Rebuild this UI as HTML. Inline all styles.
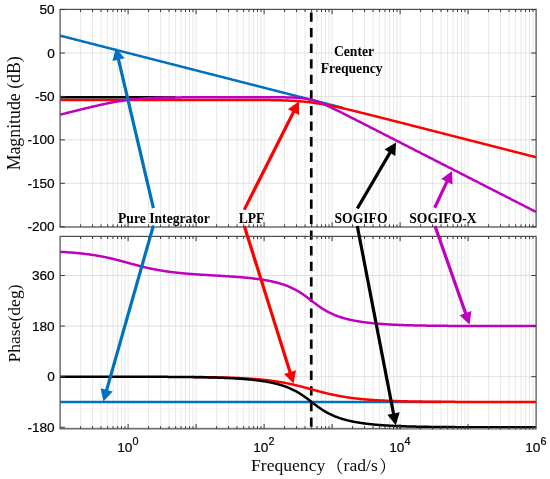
<!DOCTYPE html><html><head><meta charset="utf-8"><title>Bode</title><style>html,body{margin:0;padding:0;background:#fff}svg{display:block}.sa{font-family:"Liberation Sans",sans-serif}.se{font-family:"Liberation Serif",serif}.sc{font-family:"Liberation Serif","Noto Serif CJK SC",serif}</style></head><body><svg width="550" height="479" viewBox="0 0 550 479">
<rect width="550" height="479" fill="#fff"/>
<clipPath id="c1"><rect x="60.1" y="9.4" width="476.0" height="218.2"/></clipPath>
<line x1="80.57" y1="9.4" x2="80.57" y2="227.0" stroke="#cbcbcb" stroke-width="0.9" stroke-dasharray="1 1"/>
<line x1="92.54" y1="9.4" x2="92.54" y2="227.0" stroke="#cbcbcb" stroke-width="0.9" stroke-dasharray="1 1"/>
<line x1="101.04" y1="9.4" x2="101.04" y2="227.0" stroke="#cbcbcb" stroke-width="0.9" stroke-dasharray="1 1"/>
<line x1="107.63" y1="9.4" x2="107.63" y2="227.0" stroke="#cbcbcb" stroke-width="0.9" stroke-dasharray="1 1"/>
<line x1="113.01" y1="9.4" x2="113.01" y2="227.0" stroke="#cbcbcb" stroke-width="0.9" stroke-dasharray="1 1"/>
<line x1="117.57" y1="9.4" x2="117.57" y2="227.0" stroke="#cbcbcb" stroke-width="0.9" stroke-dasharray="1 1"/>
<line x1="121.51" y1="9.4" x2="121.51" y2="227.0" stroke="#cbcbcb" stroke-width="0.9" stroke-dasharray="1 1"/>
<line x1="124.99" y1="9.4" x2="124.99" y2="227.0" stroke="#cbcbcb" stroke-width="0.9" stroke-dasharray="1 1"/>
<line x1="148.57" y1="9.4" x2="148.57" y2="227.0" stroke="#cbcbcb" stroke-width="0.9" stroke-dasharray="1 1"/>
<line x1="160.54" y1="9.4" x2="160.54" y2="227.0" stroke="#cbcbcb" stroke-width="0.9" stroke-dasharray="1 1"/>
<line x1="169.04" y1="9.4" x2="169.04" y2="227.0" stroke="#cbcbcb" stroke-width="0.9" stroke-dasharray="1 1"/>
<line x1="175.63" y1="9.4" x2="175.63" y2="227.0" stroke="#cbcbcb" stroke-width="0.9" stroke-dasharray="1 1"/>
<line x1="181.01" y1="9.4" x2="181.01" y2="227.0" stroke="#cbcbcb" stroke-width="0.9" stroke-dasharray="1 1"/>
<line x1="185.57" y1="9.4" x2="185.57" y2="227.0" stroke="#cbcbcb" stroke-width="0.9" stroke-dasharray="1 1"/>
<line x1="189.51" y1="9.4" x2="189.51" y2="227.0" stroke="#cbcbcb" stroke-width="0.9" stroke-dasharray="1 1"/>
<line x1="192.99" y1="9.4" x2="192.99" y2="227.0" stroke="#cbcbcb" stroke-width="0.9" stroke-dasharray="1 1"/>
<line x1="216.57" y1="9.4" x2="216.57" y2="227.0" stroke="#cbcbcb" stroke-width="0.9" stroke-dasharray="1 1"/>
<line x1="228.54" y1="9.4" x2="228.54" y2="227.0" stroke="#cbcbcb" stroke-width="0.9" stroke-dasharray="1 1"/>
<line x1="237.04" y1="9.4" x2="237.04" y2="227.0" stroke="#cbcbcb" stroke-width="0.9" stroke-dasharray="1 1"/>
<line x1="243.63" y1="9.4" x2="243.63" y2="227.0" stroke="#cbcbcb" stroke-width="0.9" stroke-dasharray="1 1"/>
<line x1="249.01" y1="9.4" x2="249.01" y2="227.0" stroke="#cbcbcb" stroke-width="0.9" stroke-dasharray="1 1"/>
<line x1="253.57" y1="9.4" x2="253.57" y2="227.0" stroke="#cbcbcb" stroke-width="0.9" stroke-dasharray="1 1"/>
<line x1="257.51" y1="9.4" x2="257.51" y2="227.0" stroke="#cbcbcb" stroke-width="0.9" stroke-dasharray="1 1"/>
<line x1="260.99" y1="9.4" x2="260.99" y2="227.0" stroke="#cbcbcb" stroke-width="0.9" stroke-dasharray="1 1"/>
<line x1="284.57" y1="9.4" x2="284.57" y2="227.0" stroke="#cbcbcb" stroke-width="0.9" stroke-dasharray="1 1"/>
<line x1="296.54" y1="9.4" x2="296.54" y2="227.0" stroke="#cbcbcb" stroke-width="0.9" stroke-dasharray="1 1"/>
<line x1="305.04" y1="9.4" x2="305.04" y2="227.0" stroke="#cbcbcb" stroke-width="0.9" stroke-dasharray="1 1"/>
<line x1="311.63" y1="9.4" x2="311.63" y2="227.0" stroke="#cbcbcb" stroke-width="0.9" stroke-dasharray="1 1"/>
<line x1="317.01" y1="9.4" x2="317.01" y2="227.0" stroke="#cbcbcb" stroke-width="0.9" stroke-dasharray="1 1"/>
<line x1="321.57" y1="9.4" x2="321.57" y2="227.0" stroke="#cbcbcb" stroke-width="0.9" stroke-dasharray="1 1"/>
<line x1="325.51" y1="9.4" x2="325.51" y2="227.0" stroke="#cbcbcb" stroke-width="0.9" stroke-dasharray="1 1"/>
<line x1="328.99" y1="9.4" x2="328.99" y2="227.0" stroke="#cbcbcb" stroke-width="0.9" stroke-dasharray="1 1"/>
<line x1="352.57" y1="9.4" x2="352.57" y2="227.0" stroke="#cbcbcb" stroke-width="0.9" stroke-dasharray="1 1"/>
<line x1="364.54" y1="9.4" x2="364.54" y2="227.0" stroke="#cbcbcb" stroke-width="0.9" stroke-dasharray="1 1"/>
<line x1="373.04" y1="9.4" x2="373.04" y2="227.0" stroke="#cbcbcb" stroke-width="0.9" stroke-dasharray="1 1"/>
<line x1="379.63" y1="9.4" x2="379.63" y2="227.0" stroke="#cbcbcb" stroke-width="0.9" stroke-dasharray="1 1"/>
<line x1="385.01" y1="9.4" x2="385.01" y2="227.0" stroke="#cbcbcb" stroke-width="0.9" stroke-dasharray="1 1"/>
<line x1="389.57" y1="9.4" x2="389.57" y2="227.0" stroke="#cbcbcb" stroke-width="0.9" stroke-dasharray="1 1"/>
<line x1="393.51" y1="9.4" x2="393.51" y2="227.0" stroke="#cbcbcb" stroke-width="0.9" stroke-dasharray="1 1"/>
<line x1="396.99" y1="9.4" x2="396.99" y2="227.0" stroke="#cbcbcb" stroke-width="0.9" stroke-dasharray="1 1"/>
<line x1="420.57" y1="9.4" x2="420.57" y2="227.0" stroke="#cbcbcb" stroke-width="0.9" stroke-dasharray="1 1"/>
<line x1="432.54" y1="9.4" x2="432.54" y2="227.0" stroke="#cbcbcb" stroke-width="0.9" stroke-dasharray="1 1"/>
<line x1="441.04" y1="9.4" x2="441.04" y2="227.0" stroke="#cbcbcb" stroke-width="0.9" stroke-dasharray="1 1"/>
<line x1="447.63" y1="9.4" x2="447.63" y2="227.0" stroke="#cbcbcb" stroke-width="0.9" stroke-dasharray="1 1"/>
<line x1="453.01" y1="9.4" x2="453.01" y2="227.0" stroke="#cbcbcb" stroke-width="0.9" stroke-dasharray="1 1"/>
<line x1="457.57" y1="9.4" x2="457.57" y2="227.0" stroke="#cbcbcb" stroke-width="0.9" stroke-dasharray="1 1"/>
<line x1="461.51" y1="9.4" x2="461.51" y2="227.0" stroke="#cbcbcb" stroke-width="0.9" stroke-dasharray="1 1"/>
<line x1="464.99" y1="9.4" x2="464.99" y2="227.0" stroke="#cbcbcb" stroke-width="0.9" stroke-dasharray="1 1"/>
<line x1="488.57" y1="9.4" x2="488.57" y2="227.0" stroke="#cbcbcb" stroke-width="0.9" stroke-dasharray="1 1"/>
<line x1="500.54" y1="9.4" x2="500.54" y2="227.0" stroke="#cbcbcb" stroke-width="0.9" stroke-dasharray="1 1"/>
<line x1="509.04" y1="9.4" x2="509.04" y2="227.0" stroke="#cbcbcb" stroke-width="0.9" stroke-dasharray="1 1"/>
<line x1="515.63" y1="9.4" x2="515.63" y2="227.0" stroke="#cbcbcb" stroke-width="0.9" stroke-dasharray="1 1"/>
<line x1="521.01" y1="9.4" x2="521.01" y2="227.0" stroke="#cbcbcb" stroke-width="0.9" stroke-dasharray="1 1"/>
<line x1="525.57" y1="9.4" x2="525.57" y2="227.0" stroke="#cbcbcb" stroke-width="0.9" stroke-dasharray="1 1"/>
<line x1="529.51" y1="9.4" x2="529.51" y2="227.0" stroke="#cbcbcb" stroke-width="0.9" stroke-dasharray="1 1"/>
<line x1="532.99" y1="9.4" x2="532.99" y2="227.0" stroke="#cbcbcb" stroke-width="0.9" stroke-dasharray="1 1"/>
<line x1="128.10" y1="9.4" x2="128.10" y2="227.0" stroke="#e6e6e6" stroke-width="0.9"/>
<line x1="196.10" y1="9.4" x2="196.10" y2="227.0" stroke="#e6e6e6" stroke-width="0.9"/>
<line x1="264.10" y1="9.4" x2="264.10" y2="227.0" stroke="#e6e6e6" stroke-width="0.9"/>
<line x1="332.10" y1="9.4" x2="332.10" y2="227.0" stroke="#e6e6e6" stroke-width="0.9"/>
<line x1="400.10" y1="9.4" x2="400.10" y2="227.0" stroke="#e6e6e6" stroke-width="0.9"/>
<line x1="468.10" y1="9.4" x2="468.10" y2="227.0" stroke="#e6e6e6" stroke-width="0.9"/>
<line x1="60.1" y1="53.00" x2="536.1" y2="53.00" stroke="#dedede" stroke-width="0.9"/>
<line x1="60.1" y1="96.43" x2="536.1" y2="96.43" stroke="#dedede" stroke-width="0.9"/>
<line x1="60.1" y1="139.86" x2="536.1" y2="139.86" stroke="#dedede" stroke-width="0.9"/>
<line x1="60.1" y1="183.29" x2="536.1" y2="183.29" stroke="#dedede" stroke-width="0.9"/>
<clipPath id="c2"><rect x="60.1" y="236.4" width="476.0" height="193.0"/></clipPath>
<line x1="80.57" y1="236.4" x2="80.57" y2="428.8" stroke="#cbcbcb" stroke-width="0.9" stroke-dasharray="1 1"/>
<line x1="92.54" y1="236.4" x2="92.54" y2="428.8" stroke="#cbcbcb" stroke-width="0.9" stroke-dasharray="1 1"/>
<line x1="101.04" y1="236.4" x2="101.04" y2="428.8" stroke="#cbcbcb" stroke-width="0.9" stroke-dasharray="1 1"/>
<line x1="107.63" y1="236.4" x2="107.63" y2="428.8" stroke="#cbcbcb" stroke-width="0.9" stroke-dasharray="1 1"/>
<line x1="113.01" y1="236.4" x2="113.01" y2="428.8" stroke="#cbcbcb" stroke-width="0.9" stroke-dasharray="1 1"/>
<line x1="117.57" y1="236.4" x2="117.57" y2="428.8" stroke="#cbcbcb" stroke-width="0.9" stroke-dasharray="1 1"/>
<line x1="121.51" y1="236.4" x2="121.51" y2="428.8" stroke="#cbcbcb" stroke-width="0.9" stroke-dasharray="1 1"/>
<line x1="124.99" y1="236.4" x2="124.99" y2="428.8" stroke="#cbcbcb" stroke-width="0.9" stroke-dasharray="1 1"/>
<line x1="148.57" y1="236.4" x2="148.57" y2="428.8" stroke="#cbcbcb" stroke-width="0.9" stroke-dasharray="1 1"/>
<line x1="160.54" y1="236.4" x2="160.54" y2="428.8" stroke="#cbcbcb" stroke-width="0.9" stroke-dasharray="1 1"/>
<line x1="169.04" y1="236.4" x2="169.04" y2="428.8" stroke="#cbcbcb" stroke-width="0.9" stroke-dasharray="1 1"/>
<line x1="175.63" y1="236.4" x2="175.63" y2="428.8" stroke="#cbcbcb" stroke-width="0.9" stroke-dasharray="1 1"/>
<line x1="181.01" y1="236.4" x2="181.01" y2="428.8" stroke="#cbcbcb" stroke-width="0.9" stroke-dasharray="1 1"/>
<line x1="185.57" y1="236.4" x2="185.57" y2="428.8" stroke="#cbcbcb" stroke-width="0.9" stroke-dasharray="1 1"/>
<line x1="189.51" y1="236.4" x2="189.51" y2="428.8" stroke="#cbcbcb" stroke-width="0.9" stroke-dasharray="1 1"/>
<line x1="192.99" y1="236.4" x2="192.99" y2="428.8" stroke="#cbcbcb" stroke-width="0.9" stroke-dasharray="1 1"/>
<line x1="216.57" y1="236.4" x2="216.57" y2="428.8" stroke="#cbcbcb" stroke-width="0.9" stroke-dasharray="1 1"/>
<line x1="228.54" y1="236.4" x2="228.54" y2="428.8" stroke="#cbcbcb" stroke-width="0.9" stroke-dasharray="1 1"/>
<line x1="237.04" y1="236.4" x2="237.04" y2="428.8" stroke="#cbcbcb" stroke-width="0.9" stroke-dasharray="1 1"/>
<line x1="243.63" y1="236.4" x2="243.63" y2="428.8" stroke="#cbcbcb" stroke-width="0.9" stroke-dasharray="1 1"/>
<line x1="249.01" y1="236.4" x2="249.01" y2="428.8" stroke="#cbcbcb" stroke-width="0.9" stroke-dasharray="1 1"/>
<line x1="253.57" y1="236.4" x2="253.57" y2="428.8" stroke="#cbcbcb" stroke-width="0.9" stroke-dasharray="1 1"/>
<line x1="257.51" y1="236.4" x2="257.51" y2="428.8" stroke="#cbcbcb" stroke-width="0.9" stroke-dasharray="1 1"/>
<line x1="260.99" y1="236.4" x2="260.99" y2="428.8" stroke="#cbcbcb" stroke-width="0.9" stroke-dasharray="1 1"/>
<line x1="284.57" y1="236.4" x2="284.57" y2="428.8" stroke="#cbcbcb" stroke-width="0.9" stroke-dasharray="1 1"/>
<line x1="296.54" y1="236.4" x2="296.54" y2="428.8" stroke="#cbcbcb" stroke-width="0.9" stroke-dasharray="1 1"/>
<line x1="305.04" y1="236.4" x2="305.04" y2="428.8" stroke="#cbcbcb" stroke-width="0.9" stroke-dasharray="1 1"/>
<line x1="311.63" y1="236.4" x2="311.63" y2="428.8" stroke="#cbcbcb" stroke-width="0.9" stroke-dasharray="1 1"/>
<line x1="317.01" y1="236.4" x2="317.01" y2="428.8" stroke="#cbcbcb" stroke-width="0.9" stroke-dasharray="1 1"/>
<line x1="321.57" y1="236.4" x2="321.57" y2="428.8" stroke="#cbcbcb" stroke-width="0.9" stroke-dasharray="1 1"/>
<line x1="325.51" y1="236.4" x2="325.51" y2="428.8" stroke="#cbcbcb" stroke-width="0.9" stroke-dasharray="1 1"/>
<line x1="328.99" y1="236.4" x2="328.99" y2="428.8" stroke="#cbcbcb" stroke-width="0.9" stroke-dasharray="1 1"/>
<line x1="352.57" y1="236.4" x2="352.57" y2="428.8" stroke="#cbcbcb" stroke-width="0.9" stroke-dasharray="1 1"/>
<line x1="364.54" y1="236.4" x2="364.54" y2="428.8" stroke="#cbcbcb" stroke-width="0.9" stroke-dasharray="1 1"/>
<line x1="373.04" y1="236.4" x2="373.04" y2="428.8" stroke="#cbcbcb" stroke-width="0.9" stroke-dasharray="1 1"/>
<line x1="379.63" y1="236.4" x2="379.63" y2="428.8" stroke="#cbcbcb" stroke-width="0.9" stroke-dasharray="1 1"/>
<line x1="385.01" y1="236.4" x2="385.01" y2="428.8" stroke="#cbcbcb" stroke-width="0.9" stroke-dasharray="1 1"/>
<line x1="389.57" y1="236.4" x2="389.57" y2="428.8" stroke="#cbcbcb" stroke-width="0.9" stroke-dasharray="1 1"/>
<line x1="393.51" y1="236.4" x2="393.51" y2="428.8" stroke="#cbcbcb" stroke-width="0.9" stroke-dasharray="1 1"/>
<line x1="396.99" y1="236.4" x2="396.99" y2="428.8" stroke="#cbcbcb" stroke-width="0.9" stroke-dasharray="1 1"/>
<line x1="420.57" y1="236.4" x2="420.57" y2="428.8" stroke="#cbcbcb" stroke-width="0.9" stroke-dasharray="1 1"/>
<line x1="432.54" y1="236.4" x2="432.54" y2="428.8" stroke="#cbcbcb" stroke-width="0.9" stroke-dasharray="1 1"/>
<line x1="441.04" y1="236.4" x2="441.04" y2="428.8" stroke="#cbcbcb" stroke-width="0.9" stroke-dasharray="1 1"/>
<line x1="447.63" y1="236.4" x2="447.63" y2="428.8" stroke="#cbcbcb" stroke-width="0.9" stroke-dasharray="1 1"/>
<line x1="453.01" y1="236.4" x2="453.01" y2="428.8" stroke="#cbcbcb" stroke-width="0.9" stroke-dasharray="1 1"/>
<line x1="457.57" y1="236.4" x2="457.57" y2="428.8" stroke="#cbcbcb" stroke-width="0.9" stroke-dasharray="1 1"/>
<line x1="461.51" y1="236.4" x2="461.51" y2="428.8" stroke="#cbcbcb" stroke-width="0.9" stroke-dasharray="1 1"/>
<line x1="464.99" y1="236.4" x2="464.99" y2="428.8" stroke="#cbcbcb" stroke-width="0.9" stroke-dasharray="1 1"/>
<line x1="488.57" y1="236.4" x2="488.57" y2="428.8" stroke="#cbcbcb" stroke-width="0.9" stroke-dasharray="1 1"/>
<line x1="500.54" y1="236.4" x2="500.54" y2="428.8" stroke="#cbcbcb" stroke-width="0.9" stroke-dasharray="1 1"/>
<line x1="509.04" y1="236.4" x2="509.04" y2="428.8" stroke="#cbcbcb" stroke-width="0.9" stroke-dasharray="1 1"/>
<line x1="515.63" y1="236.4" x2="515.63" y2="428.8" stroke="#cbcbcb" stroke-width="0.9" stroke-dasharray="1 1"/>
<line x1="521.01" y1="236.4" x2="521.01" y2="428.8" stroke="#cbcbcb" stroke-width="0.9" stroke-dasharray="1 1"/>
<line x1="525.57" y1="236.4" x2="525.57" y2="428.8" stroke="#cbcbcb" stroke-width="0.9" stroke-dasharray="1 1"/>
<line x1="529.51" y1="236.4" x2="529.51" y2="428.8" stroke="#cbcbcb" stroke-width="0.9" stroke-dasharray="1 1"/>
<line x1="532.99" y1="236.4" x2="532.99" y2="428.8" stroke="#cbcbcb" stroke-width="0.9" stroke-dasharray="1 1"/>
<line x1="128.10" y1="236.4" x2="128.10" y2="428.8" stroke="#e6e6e6" stroke-width="0.9"/>
<line x1="196.10" y1="236.4" x2="196.10" y2="428.8" stroke="#e6e6e6" stroke-width="0.9"/>
<line x1="264.10" y1="236.4" x2="264.10" y2="428.8" stroke="#e6e6e6" stroke-width="0.9"/>
<line x1="332.10" y1="236.4" x2="332.10" y2="428.8" stroke="#e6e6e6" stroke-width="0.9"/>
<line x1="400.10" y1="236.4" x2="400.10" y2="428.8" stroke="#e6e6e6" stroke-width="0.9"/>
<line x1="468.10" y1="236.4" x2="468.10" y2="428.8" stroke="#e6e6e6" stroke-width="0.9"/>
<line x1="60.1" y1="275.50" x2="536.1" y2="275.50" stroke="#dedede" stroke-width="0.9"/>
<line x1="60.1" y1="326.10" x2="536.1" y2="326.10" stroke="#dedede" stroke-width="0.9"/>
<line x1="60.1" y1="376.70" x2="536.1" y2="376.70" stroke="#dedede" stroke-width="0.9"/>
<line x1="60.1" y1="427.30" x2="536.1" y2="427.30" stroke="#dedede" stroke-width="0.9"/>
<line x1="311.25" y1="12.5" x2="311.25" y2="427" stroke="#000" stroke-width="2.7" stroke-dasharray="9.3 6.273"/>
<g clip-path="url(#c1)">
<polyline points="60.10,35.63 60.63,35.76 61.16,35.90 61.69,36.03 62.22,36.17 62.75,36.30 63.28,36.44 63.81,36.57 64.34,36.71 64.87,36.85 65.39,36.98 65.92,37.12 66.45,37.25 66.98,37.39 67.51,37.52 68.04,37.66 68.57,37.79 69.10,37.93 69.63,38.06 70.16,38.20 70.69,38.33 71.22,38.47 71.75,38.60 72.28,38.74 72.81,38.87 73.34,39.01 73.87,39.14 74.40,39.28 74.93,39.42 75.45,39.55 75.98,39.69 76.51,39.82 77.04,39.96 77.57,40.09 78.10,40.23 78.63,40.36 79.16,40.50 79.69,40.63 80.22,40.77 80.75,40.90 81.28,41.04 81.81,41.17 82.34,41.31 82.87,41.44 83.40,41.58 83.93,41.71 84.46,41.85 84.99,41.99 85.51,42.12 86.04,42.26 86.57,42.39 87.10,42.53 87.63,42.66 88.16,42.80 88.69,42.93 89.22,43.07 89.75,43.20 90.28,43.34 90.81,43.47 91.34,43.61 91.87,43.74 92.40,43.88 92.93,44.01 93.46,44.15 93.99,44.29 94.52,44.42 95.05,44.56 95.57,44.69 96.10,44.83 96.63,44.96 97.16,45.10 97.69,45.23 98.22,45.37 98.75,45.50 99.28,45.64 99.81,45.77 100.34,45.91 100.87,46.04 101.40,46.18 101.93,46.31 102.46,46.45 102.99,46.58 103.52,46.72 104.05,46.86 104.58,46.99 105.11,47.13 105.64,47.26 106.16,47.40 106.69,47.53 107.22,47.67 107.75,47.80 108.28,47.94 108.81,48.07 109.34,48.21 109.87,48.34 110.40,48.48 110.93,48.61 111.46,48.75 111.99,48.88 112.52,49.02 113.05,49.15 113.58,49.29 114.11,49.43 114.64,49.56 115.17,49.70 115.70,49.83 116.22,49.97 116.75,50.10 117.28,50.24 117.81,50.37 118.34,50.51 118.87,50.64 119.40,50.78 119.93,50.91 120.46,51.05 120.99,51.18 121.52,51.32 122.05,51.45 122.58,51.59 123.11,51.72 123.64,51.86 124.17,52.00 124.70,52.13 125.23,52.27 125.76,52.40 126.28,52.54 126.81,52.67 127.34,52.81 127.87,52.94 128.40,53.08 128.93,53.21 129.46,53.35 129.99,53.48 130.52,53.62 131.05,53.75 131.58,53.89 132.11,54.02 132.64,54.16 133.17,54.29 133.70,54.43 134.23,54.57 134.76,54.70 135.29,54.84 135.82,54.97 136.34,55.11 136.87,55.24 137.40,55.38 137.93,55.51 138.46,55.65 138.99,55.78 139.52,55.92 140.05,56.05 140.58,56.19 141.11,56.32 141.64,56.46 142.17,56.59 142.70,56.73 143.23,56.86 143.76,57.00 144.29,57.14 144.82,57.27 145.35,57.41 145.88,57.54 146.40,57.68 146.93,57.81 147.46,57.95 147.99,58.08 148.52,58.22 149.05,58.35 149.58,58.49 150.11,58.62 150.64,58.76 151.17,58.89 151.70,59.03 152.23,59.16 152.76,59.30 153.29,59.43 153.82,59.57 154.35,59.71 154.88,59.84 155.41,59.98 155.94,60.11 156.46,60.25 156.99,60.38 157.52,60.52 158.05,60.65 158.58,60.79 159.11,60.92 159.64,61.06 160.17,61.19 160.70,61.33 161.23,61.46 161.76,61.60 162.29,61.73 162.82,61.87 163.35,62.00 163.88,62.14 164.41,62.28 164.94,62.41 165.47,62.55 166.00,62.68 166.52,62.82 167.05,62.95 167.58,63.09 168.11,63.22 168.64,63.36 169.17,63.49 169.70,63.63 170.23,63.76 170.76,63.90 171.29,64.03 171.82,64.17 172.35,64.30 172.88,64.44 173.41,64.57 173.94,64.71 174.47,64.85 175.00,64.98 175.53,65.12 176.06,65.25 176.58,65.39 177.11,65.52 177.64,65.66 178.17,65.79 178.70,65.93 179.23,66.06 179.76,66.20 180.29,66.33 180.82,66.47 181.35,66.60 181.88,66.74 182.41,66.87 182.94,67.01 183.47,67.14 184.00,67.28 184.53,67.42 185.06,67.55 185.59,67.69 186.12,67.82 186.65,67.96 187.17,68.09 187.70,68.23 188.23,68.36 188.76,68.50 189.29,68.63 189.82,68.77 190.35,68.90 190.88,69.04 191.41,69.17 191.94,69.31 192.47,69.44 193.00,69.58 193.53,69.71 194.06,69.85 194.59,69.99 195.12,70.12 195.65,70.26 196.18,70.39 196.71,70.53 197.23,70.66 197.76,70.80 198.29,70.93 198.82,71.07 199.35,71.20 199.88,71.34 200.41,71.47 200.94,71.61 201.47,71.74 202.00,71.88 202.53,72.01 203.06,72.15 203.59,72.29 204.12,72.42 204.65,72.56 205.18,72.69 205.71,72.83 206.24,72.96 206.77,73.10 207.29,73.23 207.82,73.37 208.35,73.50 208.88,73.64 209.41,73.77 209.94,73.91 210.47,74.04 211.00,74.18 211.53,74.31 212.06,74.45 212.59,74.58 213.12,74.72 213.65,74.86 214.18,74.99 214.71,75.13 215.24,75.26 215.77,75.40 216.30,75.53 216.83,75.67 217.35,75.80 217.88,75.94 218.41,76.07 218.94,76.21 219.47,76.34 220.00,76.48 220.53,76.61 221.06,76.75 221.59,76.88 222.12,77.02 222.65,77.15 223.18,77.29 223.71,77.43 224.24,77.56 224.77,77.70 225.30,77.83 225.83,77.97 226.36,78.10 226.89,78.24 227.41,78.37 227.94,78.51 228.47,78.64 229.00,78.78 229.53,78.91 230.06,79.05 230.59,79.18 231.12,79.32 231.65,79.45 232.18,79.59 232.71,79.72 233.24,79.86 233.77,80.00 234.30,80.13 234.83,80.27 235.36,80.40 235.89,80.54 236.42,80.67 236.95,80.81 237.47,80.94 238.00,81.08 238.53,81.21 239.06,81.35 239.59,81.48 240.12,81.62 240.65,81.75 241.18,81.89 241.71,82.02 242.24,82.16 242.77,82.29 243.30,82.43 243.83,82.57 244.36,82.70 244.89,82.84 245.42,82.97 245.95,83.11 246.48,83.24 247.01,83.38 247.53,83.51 248.06,83.65 248.59,83.78 249.12,83.92 249.65,84.05 250.18,84.19 250.71,84.32 251.24,84.46 251.77,84.59 252.30,84.73 252.83,84.86 253.36,85.00 253.89,85.14 254.42,85.27 254.95,85.41 255.48,85.54 256.01,85.68 256.54,85.81 257.07,85.95 257.59,86.08 258.12,86.22 258.65,86.35 259.18,86.49 259.71,86.62 260.24,86.76 260.77,86.89 261.30,87.03 261.83,87.16 262.36,87.30 262.89,87.43 263.42,87.57 263.95,87.71 264.48,87.84 265.01,87.98 265.54,88.11 266.07,88.25 266.60,88.38 267.13,88.52 267.66,88.65 268.18,88.79 268.71,88.92 269.24,89.06 269.77,89.19 270.30,89.33 270.83,89.46 271.36,89.60 271.89,89.73 272.42,89.87 272.95,90.00 273.48,90.14 274.01,90.28 274.54,90.41 275.07,90.55 275.60,90.68 276.13,90.82 276.66,90.95 277.19,91.09 277.72,91.22 278.24,91.36 278.77,91.49 279.30,91.63 279.83,91.76 280.36,91.90 280.89,92.03 281.42,92.17 281.95,92.30 282.48,92.44 283.01,92.57 283.54,92.71 284.07,92.85 284.60,92.98 285.13,93.12 285.66,93.25 286.19,93.39 286.72,93.52 287.25,93.66 287.78,93.79 288.30,93.93 288.83,94.06 289.36,94.20 289.89,94.33 290.42,94.47 290.95,94.60 291.48,94.74 292.01,94.87 292.54,95.01 293.07,95.14 293.60,95.28 294.13,95.42 294.66,95.55 295.19,95.69 295.72,95.82 296.25,95.96 296.78,96.09 297.31,96.23 297.84,96.36 298.36,96.50 298.89,96.63 299.42,96.77 299.95,96.90 300.48,97.04 301.01,97.17 301.54,97.31 302.07,97.44 302.60,97.58 303.13,97.72 303.66,97.85 304.19,97.99 304.72,98.12 305.25,98.26 305.78,98.39 306.31,98.53 306.84,98.66 307.37,98.80 307.90,98.93 308.42,99.07 308.95,99.20 309.48,99.34 310.01,99.47 310.54,99.61 311.07,99.74 311.60,99.88 312.13,100.01 312.66,100.15 313.19,100.29 313.72,100.42 314.25,100.56 314.78,100.69 315.31,100.83 315.84,100.96 316.37,101.10 316.90,101.23 317.43,101.37 317.96,101.50 318.48,101.64 319.01,101.77 319.54,101.91 320.07,102.04 320.60,102.18 321.13,102.31 321.66,102.45 322.19,102.58 322.72,102.72 323.25,102.86 323.78,102.99 324.31,103.13 324.84,103.26 325.37,103.40 325.90,103.53 326.43,103.67 326.96,103.80 327.49,103.94 328.02,104.07 328.54,104.21 329.07,104.34 329.60,104.48 330.13,104.61 330.66,104.75 331.19,104.88 331.72,105.02 332.25,105.15 332.78,105.29 333.31,105.43 333.84,105.56 334.37,105.70 334.90,105.83 335.43,105.97 335.96,106.10 336.49,106.24 337.02,106.37 337.55,106.51 338.08,106.64 338.61,106.78 339.13,106.91 339.66,107.05 340.19,107.18 340.72,107.32 341.25,107.45 341.78,107.59 342.31,107.72" fill="none" stroke="#0072bd" stroke-width="2.5" stroke-linejoin="round" />
<polyline points="60.10,99.89 60.63,99.89 61.16,99.89 61.69,99.89 62.22,99.89 62.75,99.89 63.28,99.89 63.81,99.89 64.34,99.89 64.87,99.89 65.39,99.89 65.92,99.89 66.45,99.89 66.98,99.89 67.51,99.89 68.04,99.89 68.57,99.89 69.10,99.89 69.63,99.89 70.16,99.89 70.69,99.89 71.22,99.89 71.75,99.89 72.28,99.89 72.81,99.89 73.34,99.89 73.87,99.89 74.40,99.89 74.93,99.89 75.45,99.89 75.98,99.89 76.51,99.89 77.04,99.89 77.57,99.89 78.10,99.89 78.63,99.89 79.16,99.89 79.69,99.89 80.22,99.89 80.75,99.89 81.28,99.89 81.81,99.89 82.34,99.89 82.87,99.89 83.40,99.89 83.93,99.89 84.46,99.89 84.99,99.89 85.51,99.89 86.04,99.89 86.57,99.89 87.10,99.89 87.63,99.89 88.16,99.89 88.69,99.89 89.22,99.89 89.75,99.89 90.28,99.89 90.81,99.89 91.34,99.89 91.87,99.89 92.40,99.89 92.93,99.89 93.46,99.89 93.99,99.89 94.52,99.89 95.05,99.89 95.57,99.89 96.10,99.89 96.63,99.89 97.16,99.89 97.69,99.89 98.22,99.89 98.75,99.89 99.28,99.89 99.81,99.89 100.34,99.89 100.87,99.89 101.40,99.89 101.93,99.89 102.46,99.89 102.99,99.89 103.52,99.89 104.05,99.89 104.58,99.89 105.11,99.89 105.64,99.89 106.16,99.89 106.69,99.89 107.22,99.89 107.75,99.89 108.28,99.89 108.81,99.89 109.34,99.89 109.87,99.89 110.40,99.89 110.93,99.89 111.46,99.89 111.99,99.89 112.52,99.89 113.05,99.89 113.58,99.89 114.11,99.89 114.64,99.89 115.17,99.89 115.70,99.89 116.22,99.89 116.75,99.89 117.28,99.89 117.81,99.89 118.34,99.89 118.87,99.89 119.40,99.89 119.93,99.89 120.46,99.89 120.99,99.89 121.52,99.89 122.05,99.89 122.58,99.89 123.11,99.89 123.64,99.89 124.17,99.89 124.70,99.89 125.23,99.89 125.76,99.89 126.28,99.89 126.81,99.89 127.34,99.89 127.87,99.89 128.40,99.89 128.93,99.89 129.46,99.89 129.99,99.89 130.52,99.89 131.05,99.89 131.58,99.89 132.11,99.89 132.64,99.89 133.17,99.89 133.70,99.89 134.23,99.89 134.76,99.89 135.29,99.89 135.82,99.89 136.34,99.89 136.87,99.89 137.40,99.89 137.93,99.89 138.46,99.89 138.99,99.89 139.52,99.89 140.05,99.89 140.58,99.89 141.11,99.89 141.64,99.89 142.17,99.89 142.70,99.89 143.23,99.89 143.76,99.89 144.29,99.89 144.82,99.89 145.35,99.89 145.88,99.89 146.40,99.89 146.93,99.89 147.46,99.89 147.99,99.89 148.52,99.89 149.05,99.89 149.58,99.89 150.11,99.89 150.64,99.89 151.17,99.89 151.70,99.89 152.23,99.89 152.76,99.89 153.29,99.89 153.82,99.89 154.35,99.89 154.88,99.89 155.41,99.89 155.94,99.89 156.46,99.89 156.99,99.89 157.52,99.89 158.05,99.89 158.58,99.89 159.11,99.89 159.64,99.89 160.17,99.89 160.70,99.89 161.23,99.89 161.76,99.89 162.29,99.89 162.82,99.89 163.35,99.89 163.88,99.89 164.41,99.89 164.94,99.89 165.47,99.89 166.00,99.89 166.52,99.89 167.05,99.89 167.58,99.89 168.11,99.89 168.64,99.89 169.17,99.89 169.70,99.89 170.23,99.89 170.76,99.89 171.29,99.89 171.82,99.89 172.35,99.89 172.88,99.89 173.41,99.89 173.94,99.89 174.47,99.89 175.00,99.89 175.53,99.89 176.06,99.89 176.58,99.89 177.11,99.89 177.64,99.89 178.17,99.89 178.70,99.89 179.23,99.89 179.76,99.89 180.29,99.89 180.82,99.89 181.35,99.89 181.88,99.89 182.41,99.89 182.94,99.89 183.47,99.89 184.00,99.89 184.53,99.89 185.06,99.89 185.59,99.89 186.12,99.89 186.65,99.89 187.17,99.89 187.70,99.89 188.23,99.89 188.76,99.89 189.29,99.89 189.82,99.89 190.35,99.89 190.88,99.89 191.41,99.89 191.94,99.89 192.47,99.89 193.00,99.89 193.53,99.89 194.06,99.89 194.59,99.89 195.12,99.89 195.65,99.89 196.18,99.89 196.71,99.89 197.23,99.89 197.76,99.89 198.29,99.89 198.82,99.89 199.35,99.89 199.88,99.89 200.41,99.89 200.94,99.89 201.47,99.89 202.00,99.89 202.53,99.89 203.06,99.89 203.59,99.89 204.12,99.89 204.65,99.89 205.18,99.89 205.71,99.89 206.24,99.89 206.77,99.89 207.29,99.89 207.82,99.89 208.35,99.89 208.88,99.89 209.41,99.89 209.94,99.89 210.47,99.89 211.00,99.89 211.53,99.89 212.06,99.89 212.59,99.89 213.12,99.89 213.65,99.89 214.18,99.89 214.71,99.89 215.24,99.89 215.77,99.89 216.30,99.89 216.83,99.89 217.35,99.89 217.88,99.89 218.41,99.89 218.94,99.89 219.47,99.89 220.00,99.89 220.53,99.89 221.06,99.89 221.59,99.89 222.12,99.90 222.65,99.90 223.18,99.90 223.71,99.90 224.24,99.90 224.77,99.90 225.30,99.90 225.83,99.90 226.36,99.90 226.89,99.90 227.41,99.90 227.94,99.90 228.47,99.90 229.00,99.90 229.53,99.90 230.06,99.90 230.59,99.90 231.12,99.90 231.65,99.90 232.18,99.90 232.71,99.90 233.24,99.91 233.77,99.91 234.30,99.91 234.83,99.91 235.36,99.91 235.89,99.91 236.42,99.91 236.95,99.91 237.47,99.91 238.00,99.91 238.53,99.91 239.06,99.91 239.59,99.92 240.12,99.92 240.65,99.92 241.18,99.92 241.71,99.92 242.24,99.92 242.77,99.92 243.30,99.92 243.83,99.92 244.36,99.93 244.89,99.93 245.42,99.93 245.95,99.93 246.48,99.93 247.01,99.93 247.53,99.94 248.06,99.94 248.59,99.94 249.12,99.94 249.65,99.94 250.18,99.94 250.71,99.95 251.24,99.95 251.77,99.95 252.30,99.95 252.83,99.96 253.36,99.96 253.89,99.96 254.42,99.96 254.95,99.97 255.48,99.97 256.01,99.97 256.54,99.98 257.07,99.98 257.59,99.98 258.12,99.99 258.65,99.99 259.18,99.99 259.71,100.00 260.24,100.00 260.77,100.01 261.30,100.01 261.83,100.01 262.36,100.02 262.89,100.02 263.42,100.03 263.95,100.03 264.48,100.04 265.01,100.04 265.54,100.05 266.07,100.06 266.60,100.06 267.13,100.07 267.66,100.07 268.18,100.08 268.71,100.09 269.24,100.09 269.77,100.10 270.30,100.11 270.83,100.12 271.36,100.13 271.89,100.13 272.42,100.14 272.95,100.15 273.48,100.16 274.01,100.17 274.54,100.18 275.07,100.19 275.60,100.20 276.13,100.21 276.66,100.22 277.19,100.24 277.72,100.25 278.24,100.26 278.77,100.27 279.30,100.29 279.83,100.30 280.36,100.32 280.89,100.33 281.42,100.35 281.95,100.36 282.48,100.38 283.01,100.39 283.54,100.41 284.07,100.43 284.60,100.45 285.13,100.47 285.66,100.49 286.19,100.51 286.72,100.53 287.25,100.55 287.78,100.57 288.30,100.59 288.83,100.62 289.36,100.64 289.89,100.67 290.42,100.69 290.95,100.72 291.48,100.74 292.01,100.77 292.54,100.80 293.07,100.83 293.60,100.86 294.13,100.89 294.66,100.92 295.19,100.96 295.72,100.99 296.25,101.03 296.78,101.06 297.31,101.10 297.84,101.14 298.36,101.18 298.89,101.21 299.42,101.26 299.95,101.30 300.48,101.34 301.01,101.38 301.54,101.43 302.07,101.47 302.60,101.52 303.13,101.57 303.66,101.62 304.19,101.67 304.72,101.72 305.25,101.77 305.78,101.83 306.31,101.88 306.84,101.94 307.37,102.00 307.90,102.05 308.42,102.11 308.95,102.17 309.48,102.24 310.01,102.30 310.54,102.36 311.07,102.43 311.60,102.50 312.13,102.57 312.66,102.64 313.19,102.71 313.72,102.78 314.25,102.85 314.78,102.92 315.31,103.00 315.84,103.08 316.37,103.15 316.90,103.23 317.43,103.31 317.96,103.40 318.48,103.48 319.01,103.56 319.54,103.65 320.07,103.73 320.60,103.82 321.13,103.91 321.66,104.00 322.19,104.09 322.72,104.18 323.25,104.27 323.78,104.36 324.31,104.46 324.84,104.55 325.37,104.65 325.90,104.75 326.43,104.85 326.96,104.95 327.49,105.05 328.02,105.15 328.54,105.25 329.07,105.35 329.60,105.46 330.13,105.56 330.66,105.67 331.19,105.77 331.72,105.88 332.25,105.99 332.78,106.10 333.31,106.21 333.84,106.32 334.37,106.43 334.90,106.54 335.43,106.65 335.96,106.77 336.49,106.88 337.02,106.99 337.55,107.11 338.08,107.22 338.61,107.34 339.13,107.46 339.66,107.57 340.19,107.69 340.72,107.81 341.25,107.93 341.78,108.05 342.31,108.17 342.84,108.29 343.37,108.41 343.90,108.53 344.43,108.65 344.96,108.78 345.49,108.90 346.02,109.02 346.55,109.15 347.08,109.27 347.61,109.39 348.14,109.52 348.67,109.64 349.19,109.77 349.72,109.89 350.25,110.02 350.78,110.15 351.31,110.27 351.84,110.40 352.37,110.53 352.90,110.65 353.43,110.78 353.96,110.91 354.49,111.04 355.02,111.17 355.55,111.29 356.08,111.42 356.61,111.55 357.14,111.68 357.67,111.81 358.20,111.94 358.73,112.07 359.25,112.20 359.78,112.33 360.31,112.46 360.84,112.59 361.37,112.72 361.90,112.85 362.43,112.98 362.96,113.11 363.49,113.25 364.02,113.38 364.55,113.51 365.08,113.64 365.61,113.77 366.14,113.90 366.67,114.04 367.20,114.17 367.73,114.30 368.26,114.43 368.79,114.57 369.31,114.70 369.84,114.83 370.37,114.96 370.90,115.10 371.43,115.23 371.96,115.36 372.49,115.50 373.02,115.63 373.55,115.76 374.08,115.90 374.61,116.03 375.14,116.16 375.67,116.30 376.20,116.43 376.73,116.56 377.26,116.70 377.79,116.83 378.32,116.96 378.85,117.10 379.37,117.23 379.90,117.37 380.43,117.50 380.96,117.63 381.49,117.77 382.02,117.90 382.55,118.04 383.08,118.17 383.61,118.30 384.14,118.44 384.67,118.57 385.20,118.71 385.73,118.84 386.26,118.98 386.79,119.11 387.32,119.24 387.85,119.38 388.38,119.51 388.91,119.65 389.43,119.78 389.96,119.92 390.49,120.05 391.02,120.19 391.55,120.32 392.08,120.46 392.61,120.59 393.14,120.73 393.67,120.86 394.20,120.99 394.73,121.13 395.26,121.26 395.79,121.40 396.32,121.53 396.85,121.67 397.38,121.80 397.91,121.94 398.44,122.07 398.97,122.21 399.49,122.34 400.02,122.48 400.55,122.61 401.08,122.75 401.61,122.88 402.14,123.02 402.67,123.15 403.20,123.29 403.73,123.42 404.26,123.56 404.79,123.69 405.32,123.83 405.85,123.96 406.38,124.10 406.91,124.23 407.44,124.37 407.97,124.50 408.50,124.64 409.03,124.77 409.55,124.91 410.08,125.04 410.61,125.18 411.14,125.31 411.67,125.45 412.20,125.58 412.73,125.72 413.26,125.85 413.79,125.99 414.32,126.12 414.85,126.26 415.38,126.39 415.91,126.53 416.44,126.67 416.97,126.80 417.50,126.94 418.03,127.07 418.56,127.21 419.09,127.34 419.62,127.48 420.14,127.61 420.67,127.75 421.20,127.88 421.73,128.02 422.26,128.15 422.79,128.29 423.32,128.42 423.85,128.56 424.38,128.69 424.91,128.83 425.44,128.96 425.97,129.10 426.50,129.23 427.03,129.37 427.56,129.50 428.09,129.64 428.62,129.77 429.15,129.91 429.68,130.04 430.20,130.18 430.73,130.32 431.26,130.45 431.79,130.59 432.32,130.72 432.85,130.86 433.38,130.99 433.91,131.13 434.44,131.26 434.97,131.40 435.50,131.53 436.03,131.67 436.56,131.80 437.09,131.94 437.62,132.07 438.15,132.21 438.68,132.34 439.21,132.48 439.74,132.61 440.26,132.75 440.79,132.88 441.32,133.02 441.85,133.16 442.38,133.29 442.91,133.43 443.44,133.56 443.97,133.70 444.50,133.83 445.03,133.97 445.56,134.10 446.09,134.24 446.62,134.37 447.15,134.51 447.68,134.64 448.21,134.78 448.74,134.91 449.27,135.05 449.80,135.18 450.32,135.32 450.85,135.45 451.38,135.59 451.91,135.73 452.44,135.86 452.97,136.00 453.50,136.13 454.03,136.27 454.56,136.40 455.09,136.54 455.62,136.67 456.15,136.81 456.68,136.94 457.21,137.08 457.74,137.21 458.27,137.35 458.80,137.48 459.33,137.62 459.86,137.75 460.38,137.89 460.91,138.02 461.44,138.16 461.97,138.29 462.50,138.43 463.03,138.57 463.56,138.70 464.09,138.84 464.62,138.97 465.15,139.11 465.68,139.24 466.21,139.38 466.74,139.51 467.27,139.65 467.80,139.78 468.33,139.92 468.86,140.05 469.39,140.19 469.92,140.32 470.44,140.46 470.97,140.59 471.50,140.73 472.03,140.86 472.56,141.00 473.09,141.14 473.62,141.27 474.15,141.41 474.68,141.54 475.21,141.68 475.74,141.81 476.27,141.95 476.80,142.08 477.33,142.22 477.86,142.35 478.39,142.49 478.92,142.62 479.45,142.76 479.98,142.89 480.50,143.03 481.03,143.16 481.56,143.30 482.09,143.43 482.62,143.57 483.15,143.71 483.68,143.84 484.21,143.98 484.74,144.11 485.27,144.25 485.80,144.38 486.33,144.52 486.86,144.65 487.39,144.79 487.92,144.92 488.45,145.06 488.98,145.19 489.51,145.33 490.04,145.46 490.56,145.60 491.09,145.73 491.62,145.87 492.15,146.00 492.68,146.14 493.21,146.28 493.74,146.41 494.27,146.55 494.80,146.68 495.33,146.82 495.86,146.95 496.39,147.09 496.92,147.22 497.45,147.36 497.98,147.49 498.51,147.63 499.04,147.76 499.57,147.90 500.10,148.03 500.63,148.17 501.15,148.30 501.68,148.44 502.21,148.57 502.74,148.71 503.27,148.85 503.80,148.98 504.33,149.12 504.86,149.25 505.39,149.39 505.92,149.52 506.45,149.66 506.98,149.79 507.51,149.93 508.04,150.06 508.57,150.20 509.10,150.33 509.63,150.47 510.16,150.60 510.69,150.74 511.21,150.87 511.74,151.01 512.27,151.15 512.80,151.28 513.33,151.42 513.86,151.55 514.39,151.69 514.92,151.82 515.45,151.96 515.98,152.09 516.51,152.23 517.04,152.36 517.57,152.50 518.10,152.63 518.63,152.77 519.16,152.90 519.69,153.04 520.22,153.17 520.75,153.31 521.27,153.44 521.80,153.58 522.33,153.72 522.86,153.85 523.39,153.99 523.92,154.12 524.45,154.26 524.98,154.39 525.51,154.53 526.04,154.66 526.57,154.80 527.10,154.93 527.63,155.07 528.16,155.20 528.69,155.34 529.22,155.47 529.75,155.61 530.28,155.74 530.81,155.88 531.33,156.01 531.86,156.15 532.39,156.29 532.92,156.42 533.45,156.56 533.98,156.69 534.51,156.83 535.04,156.96 535.57,157.10 536.10,157.23" fill="none" stroke="#ff0000" stroke-width="2.5" stroke-linejoin="round" />
<polyline points="60.10,97.27 60.63,97.27 61.16,97.27 61.69,97.27 62.22,97.27 62.75,97.27 63.28,97.27 63.81,97.27 64.34,97.27 64.87,97.27 65.39,97.27 65.92,97.27 66.45,97.27 66.98,97.27 67.51,97.27 68.04,97.27 68.57,97.27 69.10,97.27 69.63,97.27 70.16,97.27 70.69,97.27 71.22,97.27 71.75,97.27 72.28,97.27 72.81,97.27 73.34,97.27 73.87,97.27 74.40,97.27 74.93,97.27 75.45,97.27 75.98,97.27 76.51,97.27 77.04,97.27 77.57,97.27 78.10,97.27 78.63,97.27 79.16,97.27 79.69,97.27 80.22,97.27 80.75,97.27 81.28,97.27 81.81,97.27 82.34,97.27 82.87,97.27 83.40,97.27 83.93,97.27 84.46,97.27 84.99,97.27 85.51,97.27 86.04,97.27 86.57,97.27 87.10,97.27 87.63,97.27 88.16,97.27 88.69,97.27 89.22,97.27 89.75,97.27 90.28,97.27 90.81,97.27 91.34,97.27 91.87,97.27 92.40,97.27 92.93,97.27 93.46,97.27 93.99,97.27 94.52,97.27 95.05,97.27 95.57,97.27 96.10,97.27 96.63,97.27 97.16,97.27 97.69,97.27 98.22,97.27 98.75,97.27 99.28,97.27 99.81,97.27 100.34,97.27 100.87,97.27 101.40,97.27 101.93,97.27 102.46,97.27 102.99,97.27 103.52,97.27 104.05,97.27 104.58,97.27 105.11,97.27 105.64,97.27 106.16,97.27 106.69,97.27 107.22,97.27 107.75,97.27 108.28,97.27 108.81,97.27 109.34,97.27 109.87,97.27 110.40,97.27 110.93,97.27 111.46,97.27 111.99,97.27 112.52,97.27 113.05,97.27 113.58,97.27 114.11,97.27 114.64,97.27 115.17,97.27 115.70,97.27 116.22,97.27 116.75,97.27 117.28,97.27 117.81,97.27 118.34,97.27 118.87,97.27 119.40,97.27 119.93,97.27 120.46,97.27 120.99,97.27 121.52,97.27 122.05,97.27 122.58,97.27 123.11,97.27 123.64,97.27 124.17,97.27 124.70,97.27 125.23,97.27 125.76,97.27 126.28,97.27 126.81,97.27 127.34,97.27 127.87,97.27 128.40,97.27 128.93,97.27 129.46,97.27 129.99,97.27 130.52,97.27 131.05,97.27 131.58,97.27 132.11,97.27 132.64,97.27 133.17,97.27 133.70,97.27 134.23,97.27 134.76,97.27 135.29,97.27 135.82,97.27 136.34,97.27 136.87,97.27 137.40,97.27 137.93,97.27 138.46,97.27 138.99,97.27 139.52,97.27 140.05,97.27 140.58,97.27 141.11,97.27 141.64,97.27 142.17,97.27 142.70,97.27 143.23,97.27 143.76,97.27 144.29,97.27 144.82,97.27 145.35,97.27 145.88,97.27 146.40,97.27 146.93,97.27 147.46,97.27 147.99,97.27 148.52,97.27 149.05,97.27 149.58,97.27 150.11,97.27 150.64,97.27 151.17,97.27 151.70,97.27 152.23,97.27 152.76,97.27 153.29,97.27 153.82,97.27 154.35,97.27 154.88,97.27 155.41,97.27 155.94,97.27 156.46,97.27 156.99,97.27 157.52,97.27 158.05,97.27 158.58,97.27 159.11,97.27 159.64,97.27 160.17,97.27 160.70,97.27 161.23,97.27 161.76,97.27 162.29,97.27 162.82,97.27 163.35,97.27 163.88,97.27 164.41,97.27 164.94,97.27 165.47,97.27 166.00,97.27 166.52,97.27 167.05,97.27 167.58,97.27 168.11,97.27 168.64,97.27 169.17,97.27 169.70,97.27 170.23,97.27 170.76,97.27 171.29,97.27 171.82,97.27 172.35,97.27 172.88,97.27 173.41,97.27 173.94,97.27 174.47,97.27 175.00,97.27 175.53,97.27" fill="none" stroke="#000000" stroke-width="2.5" stroke-linejoin="round" />
<polyline points="60.10,114.68 60.63,114.55 61.16,114.41 61.69,114.28 62.22,114.15 62.75,114.01 63.28,113.88 63.81,113.75 64.34,113.61 64.87,113.48 65.39,113.34 65.92,113.21 66.45,113.08 66.98,112.94 67.51,112.81 68.04,112.68 68.57,112.55 69.10,112.41 69.63,112.28 70.16,112.15 70.69,112.01 71.22,111.88 71.75,111.75 72.28,111.62 72.81,111.49 73.34,111.35 73.87,111.22 74.40,111.09 74.93,110.96 75.45,110.83 75.98,110.69 76.51,110.56 77.04,110.43 77.57,110.30 78.10,110.17 78.63,110.04 79.16,109.91 79.69,109.78 80.22,109.65 80.75,109.52 81.28,109.39 81.81,109.26 82.34,109.13 82.87,109.00 83.40,108.87 83.93,108.74 84.46,108.61 84.99,108.48 85.51,108.36 86.04,108.23 86.57,108.10 87.10,107.97 87.63,107.85 88.16,107.72 88.69,107.59 89.22,107.47 89.75,107.34 90.28,107.21 90.81,107.09 91.34,106.96 91.87,106.84 92.40,106.71 92.93,106.59 93.46,106.47 93.99,106.34 94.52,106.22 95.05,106.10 95.57,105.98 96.10,105.85 96.63,105.73 97.16,105.61 97.69,105.49 98.22,105.37 98.75,105.25 99.28,105.14 99.81,105.02 100.34,104.90 100.87,104.78 101.40,104.67 101.93,104.55 102.46,104.43 102.99,104.32 103.52,104.21 104.05,104.09 104.58,103.98 105.11,103.87 105.64,103.76 106.16,103.65 106.69,103.54 107.22,103.43 107.75,103.32 108.28,103.21 108.81,103.10 109.34,103.00 109.87,102.89 110.40,102.79 110.93,102.68 111.46,102.58 111.99,102.48 112.52,102.38 113.05,102.28 113.58,102.18 114.11,102.08 114.64,101.99 115.17,101.89 115.70,101.79 116.22,101.70 116.75,101.61 117.28,101.52 117.81,101.42 118.34,101.34 118.87,101.25 119.40,101.16 119.93,101.07 120.46,100.99 120.99,100.90 121.52,100.82 122.05,100.74 122.58,100.66 123.11,100.58 123.64,100.50 124.17,100.42 124.70,100.35 125.23,100.27 125.76,100.20 126.28,100.13 126.81,100.05 127.34,99.98 127.87,99.92 128.40,99.85 128.93,99.78 129.46,99.72 129.99,99.65 130.52,99.59 131.05,99.53 131.58,99.47 132.11,99.41 132.64,99.35 133.17,99.29 133.70,99.24 134.23,99.18 134.76,99.13 135.29,99.08 135.82,99.03 136.34,98.98 136.87,98.93 137.40,98.88 137.93,98.84 138.46,98.79 138.99,98.75 139.52,98.70 140.05,98.66 140.58,98.62 141.11,98.58 141.64,98.54 142.17,98.50 142.70,98.47 143.23,98.43 143.76,98.39 144.29,98.36 144.82,98.33 145.35,98.29 145.88,98.26 146.40,98.23 146.93,98.20 147.46,98.17 147.99,98.14 148.52,98.12 149.05,98.09 149.58,98.06 150.11,98.04 150.64,98.01 151.17,97.99 151.70,97.97 152.23,97.94 152.76,97.92 153.29,97.90 153.82,97.88 154.35,97.86 154.88,97.84 155.41,97.82 155.94,97.80 156.46,97.79 156.99,97.77 157.52,97.75 158.05,97.74 158.58,97.72 159.11,97.71 159.64,97.69 160.17,97.68 160.70,97.67 161.23,97.65 161.76,97.64 162.29,97.63 162.82,97.61 163.35,97.60 163.88,97.59 164.41,97.58 164.94,97.57 165.47,97.56 166.00,97.55 166.52,97.54 167.05,97.53 167.58,97.52 168.11,97.51 168.64,97.51 169.17,97.50 169.70,97.49 170.23,97.48 170.76,97.48 171.29,97.47 171.82,97.46 172.35,97.46 172.88,97.45 173.41,97.44 173.94,97.44 174.47,97.43 175.00,97.43 175.53,97.42 176.06,97.42 176.58,97.41 177.11,97.41 177.64,97.40 178.17,97.40 178.70,97.39 179.23,97.39 179.76,97.38 180.29,97.38 180.82,97.38 181.35,97.37 181.88,97.37 182.41,97.37 182.94,97.36 183.47,97.36 184.00,97.36 184.53,97.35 185.06,97.35 185.59,97.35 186.12,97.35 186.65,97.34 187.17,97.34 187.70,97.34 188.23,97.34 188.76,97.33 189.29,97.33 189.82,97.33 190.35,97.33 190.88,97.33 191.41,97.32 191.94,97.32 192.47,97.32 193.00,97.32 193.53,97.32 194.06,97.31 194.59,97.31 195.12,97.31 195.65,97.31 196.18,97.31 196.71,97.31 197.23,97.31 197.76,97.31 198.29,97.30 198.82,97.30 199.35,97.30 199.88,97.30 200.41,97.30 200.94,97.30 201.47,97.30 202.00,97.30 202.53,97.30 203.06,97.30 203.59,97.29 204.12,97.29 204.65,97.29 205.18,97.29 205.71,97.29 206.24,97.29 206.77,97.29 207.29,97.29 207.82,97.29 208.35,97.29 208.88,97.29 209.41,97.29 209.94,97.29 210.47,97.29 211.00,97.29 211.53,97.29 212.06,97.28 212.59,97.28 213.12,97.28 213.65,97.28 214.18,97.28 214.71,97.28 215.24,97.28 215.77,97.28 216.30,97.28 216.83,97.28 217.35,97.28 217.88,97.28 218.41,97.28 218.94,97.28 219.47,97.28 220.00,97.28 220.53,97.28 221.06,97.28 221.59,97.28 222.12,97.28 222.65,97.28 223.18,97.28 223.71,97.28 224.24,97.28 224.77,97.28 225.30,97.28 225.83,97.28 226.36,97.28 226.89,97.28 227.41,97.28 227.94,97.28 228.47,97.28 229.00,97.28 229.53,97.28 230.06,97.28 230.59,97.28 231.12,97.28 231.65,97.28 232.18,97.28 232.71,97.28 233.24,97.27 233.77,97.27 234.30,97.27 234.83,97.27 235.36,97.27 235.89,97.27 236.42,97.27 236.95,97.27 237.47,97.27 238.00,97.27 238.53,97.27 239.06,97.27 239.59,97.27 240.12,97.27 240.65,97.27 241.18,97.27 241.71,97.27 242.24,97.27 242.77,97.27 243.30,97.27 243.83,97.27 244.36,97.27 244.89,97.27 245.42,97.27 245.95,97.27 246.48,97.27 247.01,97.27 247.53,97.27 248.06,97.27 248.59,97.27 249.12,97.27 249.65,97.27 250.18,97.27 250.71,97.27 251.24,97.27 251.77,97.27 252.30,97.27 252.83,97.27 253.36,97.27 253.89,97.27 254.42,97.27 254.95,97.27 255.48,97.27 256.01,97.27 256.54,97.27 257.07,97.27 257.59,97.27 258.12,97.28 258.65,97.28 259.18,97.28 259.71,97.28 260.24,97.28 260.77,97.28 261.30,97.28 261.83,97.28 262.36,97.28 262.89,97.28 263.42,97.28 263.95,97.28 264.48,97.28 265.01,97.28 265.54,97.28 266.07,97.28 266.60,97.28 267.13,97.28 267.66,97.28 268.18,97.28 268.71,97.28 269.24,97.28 269.77,97.29 270.30,97.29 270.83,97.29 271.36,97.29 271.89,97.29 272.42,97.29 272.95,97.29 273.48,97.29 274.01,97.29 274.54,97.30 275.07,97.30 275.60,97.30 276.13,97.30 276.66,97.30 277.19,97.31 277.72,97.31 278.24,97.31 278.77,97.32 279.30,97.32 279.83,97.32 280.36,97.33 280.89,97.33 281.42,97.33 281.95,97.34 282.48,97.34 283.01,97.35 283.54,97.35 284.07,97.36 284.60,97.37 285.13,97.37 285.66,97.38 286.19,97.39 286.72,97.40 287.25,97.41 287.78,97.42 288.30,97.43 288.83,97.44 289.36,97.45 289.89,97.47 290.42,97.48 290.95,97.49 291.48,97.51 292.01,97.53 292.54,97.55 293.07,97.57 293.60,97.59 294.13,97.61 294.66,97.63 295.19,97.66 295.72,97.69 296.25,97.71 296.78,97.75 297.31,97.78 297.84,97.81 298.36,97.85 298.89,97.89 299.42,97.93 299.95,97.98 300.48,98.02 301.01,98.08 301.54,98.13 302.07,98.19 302.60,98.25 303.13,98.31 303.66,98.38 304.19,98.45 304.72,98.52 305.25,98.60 305.78,98.68 306.31,98.77 306.84,98.86 307.37,98.95 307.90,99.05 308.42,99.16 308.95,99.26 309.48,99.38 310.01,99.50 310.54,99.62 311.07,99.75 311.60,99.88 312.13,100.02 312.66,100.16 313.19,100.31 313.72,100.46 314.25,100.61 314.78,100.78 315.31,100.94 315.84,101.11 316.37,101.29 316.90,101.47 317.43,101.65 317.96,101.84 318.48,102.03 319.01,102.23 319.54,102.43 320.07,102.63 320.60,102.84 321.13,103.05 321.66,103.26 322.19,103.48 322.72,103.70 323.25,103.92 323.78,104.14 324.31,104.37 324.84,104.60 325.37,104.84 325.90,105.07 326.43,105.31 326.96,105.55 327.49,105.79 328.02,106.03 328.54,106.28 329.07,106.52 329.60,106.77 330.13,107.02 330.66,107.27 331.19,107.52 331.72,107.78 332.25,108.03 332.78,108.29 333.31,108.54 333.84,108.80 334.37,109.06 334.90,109.32 335.43,109.58 335.96,109.84 336.49,110.10 337.02,110.36 337.55,110.62 338.08,110.89 338.61,111.15 339.13,111.41 339.66,111.68 340.19,111.94 340.72,112.21 341.25,112.47 341.78,112.74 342.31,113.01 342.84,113.27 343.37,113.54 343.90,113.81 344.43,114.07 344.96,114.34 345.49,114.61 346.02,114.88 346.55,115.15 347.08,115.41 347.61,115.68 348.14,115.95 348.67,116.22 349.19,116.49 349.72,116.76 350.25,117.03 350.78,117.30 351.31,117.56 351.84,117.83 352.37,118.10 352.90,118.37 353.43,118.64 353.96,118.91 354.49,119.18 355.02,119.45 355.55,119.72 356.08,119.99 356.61,120.26 357.14,120.53 357.67,120.80 358.20,121.07 358.73,121.34 359.25,121.61 359.78,121.88 360.31,122.15 360.84,122.42 361.37,122.69 361.90,122.96 362.43,123.23 362.96,123.50 363.49,123.77 364.02,124.04 364.55,124.31 365.08,124.58 365.61,124.85 366.14,125.12 366.67,125.39 367.20,125.67 367.73,125.94 368.26,126.21 368.79,126.48 369.31,126.75 369.84,127.02 370.37,127.29 370.90,127.56 371.43,127.83 371.96,128.10 372.49,128.37 373.02,128.64 373.55,128.91 374.08,129.18 374.61,129.45 375.14,129.72 375.67,129.99 376.20,130.26 376.73,130.53 377.26,130.80 377.79,131.07 378.32,131.34 378.85,131.62 379.37,131.89 379.90,132.16 380.43,132.43 380.96,132.70 381.49,132.97 382.02,133.24 382.55,133.51 383.08,133.78 383.61,134.05 384.14,134.32 384.67,134.59 385.20,134.86 385.73,135.13 386.26,135.40 386.79,135.67 387.32,135.94 387.85,136.21 388.38,136.48 388.91,136.76 389.43,137.03 389.96,137.30 390.49,137.57 391.02,137.84 391.55,138.11 392.08,138.38 392.61,138.65 393.14,138.92 393.67,139.19 394.20,139.46 394.73,139.73 395.26,140.00 395.79,140.27 396.32,140.54 396.85,140.81 397.38,141.08 397.91,141.35 398.44,141.62 398.97,141.90 399.49,142.17 400.02,142.44 400.55,142.71 401.08,142.98 401.61,143.25 402.14,143.52 402.67,143.79 403.20,144.06 403.73,144.33 404.26,144.60 404.79,144.87 405.32,145.14 405.85,145.41 406.38,145.68 406.91,145.95 407.44,146.22 407.97,146.49 408.50,146.76 409.03,147.04 409.55,147.31 410.08,147.58 410.61,147.85 411.14,148.12 411.67,148.39 412.20,148.66 412.73,148.93 413.26,149.20 413.79,149.47 414.32,149.74 414.85,150.01 415.38,150.28 415.91,150.55 416.44,150.82 416.97,151.09 417.50,151.36 418.03,151.63 418.56,151.90 419.09,152.18 419.62,152.45 420.14,152.72 420.67,152.99 421.20,153.26 421.73,153.53 422.26,153.80 422.79,154.07 423.32,154.34 423.85,154.61 424.38,154.88 424.91,155.15 425.44,155.42 425.97,155.69 426.50,155.96 427.03,156.23 427.56,156.50 428.09,156.77 428.62,157.04 429.15,157.32 429.68,157.59 430.20,157.86 430.73,158.13 431.26,158.40 431.79,158.67 432.32,158.94 432.85,159.21 433.38,159.48 433.91,159.75 434.44,160.02 434.97,160.29 435.50,160.56 436.03,160.83 436.56,161.10 437.09,161.37 437.62,161.64 438.15,161.91 438.68,162.18 439.21,162.46 439.74,162.73 440.26,163.00 440.79,163.27 441.32,163.54 441.85,163.81 442.38,164.08 442.91,164.35 443.44,164.62 443.97,164.89 444.50,165.16 445.03,165.43 445.56,165.70 446.09,165.97 446.62,166.24 447.15,166.51 447.68,166.78 448.21,167.05 448.74,167.33 449.27,167.60 449.80,167.87 450.32,168.14 450.85,168.41 451.38,168.68 451.91,168.95 452.44,169.22 452.97,169.49 453.50,169.76 454.03,170.03 454.56,170.30 455.09,170.57 455.62,170.84 456.15,171.11 456.68,171.38 457.21,171.65 457.74,171.92 458.27,172.19 458.80,172.47 459.33,172.74 459.86,173.01 460.38,173.28 460.91,173.55 461.44,173.82 461.97,174.09 462.50,174.36 463.03,174.63 463.56,174.90 464.09,175.17 464.62,175.44 465.15,175.71 465.68,175.98 466.21,176.25 466.74,176.52 467.27,176.79 467.80,177.06 468.33,177.33 468.86,177.61 469.39,177.88 469.92,178.15 470.44,178.42 470.97,178.69 471.50,178.96 472.03,179.23 472.56,179.50 473.09,179.77 473.62,180.04 474.15,180.31 474.68,180.58 475.21,180.85 475.74,181.12 476.27,181.39 476.80,181.66 477.33,181.93 477.86,182.20 478.39,182.47 478.92,182.75 479.45,183.02 479.98,183.29 480.50,183.56 481.03,183.83 481.56,184.10 482.09,184.37 482.62,184.64 483.15,184.91 483.68,185.18 484.21,185.45 484.74,185.72 485.27,185.99 485.80,186.26 486.33,186.53 486.86,186.80 487.39,187.07 487.92,187.34 488.45,187.61 488.98,187.89 489.51,188.16 490.04,188.43 490.56,188.70 491.09,188.97 491.62,189.24 492.15,189.51 492.68,189.78 493.21,190.05 493.74,190.32 494.27,190.59 494.80,190.86 495.33,191.13 495.86,191.40 496.39,191.67 496.92,191.94 497.45,192.21 497.98,192.48 498.51,192.75 499.04,193.03 499.57,193.30 500.10,193.57 500.63,193.84 501.15,194.11 501.68,194.38 502.21,194.65 502.74,194.92 503.27,195.19 503.80,195.46 504.33,195.73 504.86,196.00 505.39,196.27 505.92,196.54 506.45,196.81 506.98,197.08 507.51,197.35 508.04,197.62 508.57,197.90 509.10,198.17 509.63,198.44 510.16,198.71 510.69,198.98 511.21,199.25 511.74,199.52 512.27,199.79 512.80,200.06 513.33,200.33 513.86,200.60 514.39,200.87 514.92,201.14 515.45,201.41 515.98,201.68 516.51,201.95 517.04,202.22 517.57,202.49 518.10,202.76 518.63,203.04 519.16,203.31 519.69,203.58 520.22,203.85 520.75,204.12 521.27,204.39 521.80,204.66 522.33,204.93 522.86,205.20 523.39,205.47 523.92,205.74 524.45,206.01 524.98,206.28 525.51,206.55 526.04,206.82 526.57,207.09 527.10,207.36 527.63,207.63 528.16,207.90 528.69,208.18 529.22,208.45 529.75,208.72 530.28,208.99 530.81,209.26 531.33,209.53 531.86,209.80 532.39,210.07 532.92,210.34 533.45,210.61 533.98,210.88 534.51,211.15 535.04,211.42 535.57,211.69 536.10,211.96" fill="none" stroke="#bf00bf" stroke-width="2.5" stroke-linejoin="round" />
</g>
<g clip-path="url(#c2)">
<polyline points="60.10,402.00 60.63,402.00 61.16,402.00 61.69,402.00 62.22,402.00 62.75,402.00 63.28,402.00 63.81,402.00 64.34,402.00 64.87,402.00 65.39,402.00 65.92,402.00 66.45,402.00 66.98,402.00 67.51,402.00 68.04,402.00 68.57,402.00 69.10,402.00 69.63,402.00 70.16,402.00 70.69,402.00 71.22,402.00 71.75,402.00 72.28,402.00 72.81,402.00 73.34,402.00 73.87,402.00 74.40,402.00 74.93,402.00 75.45,402.00 75.98,402.00 76.51,402.00 77.04,402.00 77.57,402.00 78.10,402.00 78.63,402.00 79.16,402.00 79.69,402.00 80.22,402.00 80.75,402.00 81.28,402.00 81.81,402.00 82.34,402.00 82.87,402.00 83.40,402.00 83.93,402.00 84.46,402.00 84.99,402.00 85.51,402.00 86.04,402.00 86.57,402.00 87.10,402.00 87.63,402.00 88.16,402.00 88.69,402.00 89.22,402.00 89.75,402.00 90.28,402.00 90.81,402.00 91.34,402.00 91.87,402.00 92.40,402.00 92.93,402.00 93.46,402.00 93.99,402.00 94.52,402.00 95.05,402.00 95.57,402.00 96.10,402.00 96.63,402.00 97.16,402.00 97.69,402.00 98.22,402.00 98.75,402.00 99.28,402.00 99.81,402.00 100.34,402.00 100.87,402.00 101.40,402.00 101.93,402.00 102.46,402.00 102.99,402.00 103.52,402.00 104.05,402.00 104.58,402.00 105.11,402.00 105.64,402.00 106.16,402.00 106.69,402.00 107.22,402.00 107.75,402.00 108.28,402.00 108.81,402.00 109.34,402.00 109.87,402.00 110.40,402.00 110.93,402.00 111.46,402.00 111.99,402.00 112.52,402.00 113.05,402.00 113.58,402.00 114.11,402.00 114.64,402.00 115.17,402.00 115.70,402.00 116.22,402.00 116.75,402.00 117.28,402.00 117.81,402.00 118.34,402.00 118.87,402.00 119.40,402.00 119.93,402.00 120.46,402.00 120.99,402.00 121.52,402.00 122.05,402.00 122.58,402.00 123.11,402.00 123.64,402.00 124.17,402.00 124.70,402.00 125.23,402.00 125.76,402.00 126.28,402.00 126.81,402.00 127.34,402.00 127.87,402.00 128.40,402.00 128.93,402.00 129.46,402.00 129.99,402.00 130.52,402.00 131.05,402.00 131.58,402.00 132.11,402.00 132.64,402.00 133.17,402.00 133.70,402.00 134.23,402.00 134.76,402.00 135.29,402.00 135.82,402.00 136.34,402.00 136.87,402.00 137.40,402.00 137.93,402.00 138.46,402.00 138.99,402.00 139.52,402.00 140.05,402.00 140.58,402.00 141.11,402.00 141.64,402.00 142.17,402.00 142.70,402.00 143.23,402.00 143.76,402.00 144.29,402.00 144.82,402.00 145.35,402.00 145.88,402.00 146.40,402.00 146.93,402.00 147.46,402.00 147.99,402.00 148.52,402.00 149.05,402.00 149.58,402.00 150.11,402.00 150.64,402.00 151.17,402.00 151.70,402.00 152.23,402.00 152.76,402.00 153.29,402.00 153.82,402.00 154.35,402.00 154.88,402.00 155.41,402.00 155.94,402.00 156.46,402.00 156.99,402.00 157.52,402.00 158.05,402.00 158.58,402.00 159.11,402.00 159.64,402.00 160.17,402.00 160.70,402.00 161.23,402.00 161.76,402.00 162.29,402.00 162.82,402.00 163.35,402.00 163.88,402.00 164.41,402.00 164.94,402.00 165.47,402.00 166.00,402.00 166.52,402.00 167.05,402.00 167.58,402.00 168.11,402.00 168.64,402.00 169.17,402.00 169.70,402.00 170.23,402.00 170.76,402.00 171.29,402.00 171.82,402.00 172.35,402.00 172.88,402.00 173.41,402.00 173.94,402.00 174.47,402.00 175.00,402.00 175.53,402.00 176.06,402.00 176.58,402.00 177.11,402.00 177.64,402.00 178.17,402.00 178.70,402.00 179.23,402.00 179.76,402.00 180.29,402.00 180.82,402.00 181.35,402.00 181.88,402.00 182.41,402.00 182.94,402.00 183.47,402.00 184.00,402.00 184.53,402.00 185.06,402.00 185.59,402.00 186.12,402.00 186.65,402.00 187.17,402.00 187.70,402.00 188.23,402.00 188.76,402.00 189.29,402.00 189.82,402.00 190.35,402.00 190.88,402.00 191.41,402.00 191.94,402.00 192.47,402.00 193.00,402.00 193.53,402.00 194.06,402.00 194.59,402.00 195.12,402.00 195.65,402.00 196.18,402.00 196.71,402.00 197.23,402.00 197.76,402.00 198.29,402.00 198.82,402.00 199.35,402.00 199.88,402.00 200.41,402.00 200.94,402.00 201.47,402.00 202.00,402.00 202.53,402.00 203.06,402.00 203.59,402.00 204.12,402.00 204.65,402.00 205.18,402.00 205.71,402.00 206.24,402.00 206.77,402.00 207.29,402.00 207.82,402.00 208.35,402.00 208.88,402.00 209.41,402.00 209.94,402.00 210.47,402.00 211.00,402.00 211.53,402.00 212.06,402.00 212.59,402.00 213.12,402.00 213.65,402.00 214.18,402.00 214.71,402.00 215.24,402.00 215.77,402.00 216.30,402.00 216.83,402.00 217.35,402.00 217.88,402.00 218.41,402.00 218.94,402.00 219.47,402.00 220.00,402.00 220.53,402.00 221.06,402.00 221.59,402.00 222.12,402.00 222.65,402.00 223.18,402.00 223.71,402.00 224.24,402.00 224.77,402.00 225.30,402.00 225.83,402.00 226.36,402.00 226.89,402.00 227.41,402.00 227.94,402.00 228.47,402.00 229.00,402.00 229.53,402.00 230.06,402.00 230.59,402.00 231.12,402.00 231.65,402.00 232.18,402.00 232.71,402.00 233.24,402.00 233.77,402.00 234.30,402.00 234.83,402.00 235.36,402.00 235.89,402.00 236.42,402.00 236.95,402.00 237.47,402.00 238.00,402.00 238.53,402.00 239.06,402.00 239.59,402.00 240.12,402.00 240.65,402.00 241.18,402.00 241.71,402.00 242.24,402.00 242.77,402.00 243.30,402.00 243.83,402.00 244.36,402.00 244.89,402.00 245.42,402.00 245.95,402.00 246.48,402.00 247.01,402.00 247.53,402.00 248.06,402.00 248.59,402.00 249.12,402.00 249.65,402.00 250.18,402.00 250.71,402.00 251.24,402.00 251.77,402.00 252.30,402.00 252.83,402.00 253.36,402.00 253.89,402.00 254.42,402.00 254.95,402.00 255.48,402.00 256.01,402.00 256.54,402.00 257.07,402.00 257.59,402.00 258.12,402.00 258.65,402.00 259.18,402.00 259.71,402.00 260.24,402.00 260.77,402.00 261.30,402.00 261.83,402.00 262.36,402.00 262.89,402.00 263.42,402.00 263.95,402.00 264.48,402.00 265.01,402.00 265.54,402.00 266.07,402.00 266.60,402.00 267.13,402.00 267.66,402.00 268.18,402.00 268.71,402.00 269.24,402.00 269.77,402.00 270.30,402.00 270.83,402.00 271.36,402.00 271.89,402.00 272.42,402.00 272.95,402.00 273.48,402.00 274.01,402.00 274.54,402.00 275.07,402.00 275.60,402.00 276.13,402.00 276.66,402.00 277.19,402.00 277.72,402.00 278.24,402.00 278.77,402.00 279.30,402.00 279.83,402.00 280.36,402.00 280.89,402.00 281.42,402.00 281.95,402.00 282.48,402.00 283.01,402.00 283.54,402.00 284.07,402.00 284.60,402.00 285.13,402.00 285.66,402.00 286.19,402.00 286.72,402.00 287.25,402.00 287.78,402.00 288.30,402.00 288.83,402.00 289.36,402.00 289.89,402.00 290.42,402.00 290.95,402.00 291.48,402.00 292.01,402.00 292.54,402.00 293.07,402.00 293.60,402.00 294.13,402.00 294.66,402.00 295.19,402.00 295.72,402.00 296.25,402.00 296.78,402.00 297.31,402.00 297.84,402.00 298.36,402.00 298.89,402.00 299.42,402.00 299.95,402.00 300.48,402.00 301.01,402.00 301.54,402.00 302.07,402.00 302.60,402.00 303.13,402.00 303.66,402.00 304.19,402.00 304.72,402.00 305.25,402.00 305.78,402.00 306.31,402.00 306.84,402.00 307.37,402.00 307.90,402.00 308.42,402.00 308.95,402.00 309.48,402.00 310.01,402.00 310.54,402.00 311.07,402.00 311.60,402.00 312.13,402.00 312.66,402.00 313.19,402.00 313.72,402.00 314.25,402.00 314.78,402.00 315.31,402.00 315.84,402.00 316.37,402.00 316.90,402.00 317.43,402.00 317.96,402.00 318.48,402.00 319.01,402.00 319.54,402.00 320.07,402.00 320.60,402.00 321.13,402.00 321.66,402.00 322.19,402.00 322.72,402.00 323.25,402.00 323.78,402.00 324.31,402.00 324.84,402.00 325.37,402.00 325.90,402.00 326.43,402.00 326.96,402.00 327.49,402.00 328.02,402.00 328.54,402.00 329.07,402.00 329.60,402.00 330.13,402.00 330.66,402.00 331.19,402.00 331.72,402.00 332.25,402.00 332.78,402.00 333.31,402.00 333.84,402.00 334.37,402.00 334.90,402.00 335.43,402.00 335.96,402.00 336.49,402.00 337.02,402.00 337.55,402.00 338.08,402.00 338.61,402.00 339.13,402.00 339.66,402.00 340.19,402.00 340.72,402.00 341.25,402.00 341.78,402.00 342.31,402.00 342.84,402.00 343.37,402.00 343.90,402.00 344.43,402.00 344.96,402.00 345.49,402.00 346.02,402.00 346.55,402.00 347.08,402.00 347.61,402.00 348.14,402.00 348.67,402.00 349.19,402.00 349.72,402.00 350.25,402.00 350.78,402.00 351.31,402.00 351.84,402.00 352.37,402.00 352.90,402.00 353.43,402.00 353.96,402.00 354.49,402.00 355.02,402.00 355.55,402.00 356.08,402.00 356.61,402.00 357.14,402.00 357.67,402.00 358.20,402.00 358.73,402.00 359.25,402.00 359.78,402.00 360.31,402.00 360.84,402.00 361.37,402.00 361.90,402.00 362.43,402.00 362.96,402.00 363.49,402.00 364.02,402.00 364.55,402.00 365.08,402.00 365.61,402.00 366.14,402.00 366.67,402.00 367.20,402.00 367.73,402.00 368.26,402.00 368.79,402.00 369.31,402.00 369.84,402.00 370.37,402.00 370.90,402.00 371.43,402.00 371.96,402.00 372.49,402.00 373.02,402.00 373.55,402.00 374.08,402.00 374.61,402.00 375.14,402.00 375.67,402.00 376.20,402.00 376.73,402.00 377.26,402.00 377.79,402.00 378.32,402.00 378.85,402.00 379.37,402.00 379.90,402.00 380.43,402.00 380.96,402.00 381.49,402.00 382.02,402.00 382.55,402.00 383.08,402.00 383.61,402.00 384.14,402.00 384.67,402.00 385.20,402.00 385.73,402.00 386.26,402.00 386.79,402.00 387.32,402.00 387.85,402.00 388.38,402.00 388.91,402.00 389.43,402.00 389.96,402.00 390.49,402.00 391.02,402.00 391.55,402.00 392.08,402.00 392.61,402.00 393.14,402.00 393.67,402.00 394.20,402.00 394.73,402.00 395.26,402.00 395.79,402.00 396.32,402.00 396.85,402.00 397.38,402.00 397.91,402.00 398.44,402.00 398.97,402.00 399.49,402.00 400.02,402.00 400.55,402.00 401.08,402.00 401.61,402.00 402.14,402.00 402.67,402.00 403.20,402.00 403.73,402.00 404.26,402.00 404.79,402.00 405.32,402.00 405.85,402.00 406.38,402.00 406.91,402.00 407.44,402.00 407.97,402.00 408.50,402.00 409.03,402.00 409.55,402.00 410.08,402.00 410.61,402.00 411.14,402.00 411.67,402.00 412.20,402.00 412.73,402.00 413.26,402.00 413.79,402.00 414.32,402.00 414.85,402.00 415.38,402.00 415.91,402.00 416.44,402.00 416.97,402.00 417.50,402.00 418.03,402.00 418.56,402.00 419.09,402.00 419.62,402.00 420.14,402.00 420.67,402.00 421.20,402.00 421.73,402.00 422.26,402.00 422.79,402.00 423.32,402.00 423.85,402.00 424.38,402.00 424.91,402.00 425.44,402.00 425.97,402.00 426.50,402.00 427.03,402.00 427.56,402.00 428.09,402.00 428.62,402.00 429.15,402.00 429.68,402.00 430.20,402.00 430.73,402.00 431.26,402.00 431.79,402.00 432.32,402.00 432.85,402.00 433.38,402.00 433.91,402.00 434.44,402.00 434.97,402.00 435.50,402.00 436.03,402.00 436.56,402.00 437.09,402.00 437.62,402.00 438.15,402.00 438.68,402.00 439.21,402.00 439.74,402.00 440.26,402.00 440.79,402.00 441.32,402.00" fill="none" stroke="#0072bd" stroke-width="2.5" stroke-linejoin="round" />
<polyline points="192.47,376.98 193.00,376.99 193.53,377.00 194.06,377.00 194.59,377.01 195.12,377.01 195.65,377.02 196.18,377.02 196.71,377.03 197.23,377.03 197.76,377.04 198.29,377.05 198.82,377.05 199.35,377.06 199.88,377.07 200.41,377.07 200.94,377.08 201.47,377.09 202.00,377.09 202.53,377.10 203.06,377.11 203.59,377.12 204.12,377.12 204.65,377.13 205.18,377.14 205.71,377.15 206.24,377.15 206.77,377.16 207.29,377.17 207.82,377.18 208.35,377.19 208.88,377.20 209.41,377.21 209.94,377.21 210.47,377.22 211.00,377.23 211.53,377.24 212.06,377.25 212.59,377.26 213.12,377.27 213.65,377.28 214.18,377.29 214.71,377.30 215.24,377.32 215.77,377.33 216.30,377.34 216.83,377.35 217.35,377.36 217.88,377.37 218.41,377.39 218.94,377.40 219.47,377.41 220.00,377.42 220.53,377.44 221.06,377.45 221.59,377.46 222.12,377.48 222.65,377.49 223.18,377.51 223.71,377.52 224.24,377.53 224.77,377.55 225.30,377.56 225.83,377.58 226.36,377.60 226.89,377.61 227.41,377.63 227.94,377.65 228.47,377.66 229.00,377.68 229.53,377.70 230.06,377.72 230.59,377.73 231.12,377.75 231.65,377.77 232.18,377.79 232.71,377.81 233.24,377.83 233.77,377.85 234.30,377.87 234.83,377.89 235.36,377.91 235.89,377.94 236.42,377.96 236.95,377.98 237.47,378.00 238.00,378.03 238.53,378.05 239.06,378.08 239.59,378.10 240.12,378.13 240.65,378.15 241.18,378.18 241.71,378.20 242.24,378.23 242.77,378.26 243.30,378.29 243.83,378.32 244.36,378.35 244.89,378.37 245.42,378.40 245.95,378.44 246.48,378.47 247.01,378.50 247.53,378.53 248.06,378.56 248.59,378.60 249.12,378.63 249.65,378.67 250.18,378.70 250.71,378.74 251.24,378.77 251.77,378.81 252.30,378.85 252.83,378.89 253.36,378.92 253.89,378.96 254.42,379.01 254.95,379.05 255.48,379.09 256.01,379.13 256.54,379.17 257.07,379.22 257.59,379.26 258.12,379.31 258.65,379.35 259.18,379.40 259.71,379.45 260.24,379.50 260.77,379.55 261.30,379.60 261.83,379.65 262.36,379.70 262.89,379.75 263.42,379.81 263.95,379.86 264.48,379.92 265.01,379.98 265.54,380.03 266.07,380.09 266.60,380.15 267.13,380.21 267.66,380.27 268.18,380.34 268.71,380.40 269.24,380.46 269.77,380.53 270.30,380.60 270.83,380.66 271.36,380.73 271.89,380.80 272.42,380.87 272.95,380.95 273.48,381.02 274.01,381.09 274.54,381.17 275.07,381.25 275.60,381.32 276.13,381.40 276.66,381.48 277.19,381.56 277.72,381.65 278.24,381.73 278.77,381.82 279.30,381.90 279.83,381.99 280.36,382.08 280.89,382.17 281.42,382.26 281.95,382.35 282.48,382.45 283.01,382.54 283.54,382.64 284.07,382.73 284.60,382.83 285.13,382.93 285.66,383.04 286.19,383.14 286.72,383.24 287.25,383.35 287.78,383.46 288.30,383.56 288.83,383.67 289.36,383.78 289.89,383.89 290.42,384.01 290.95,384.12 291.48,384.24 292.01,384.35 292.54,384.47 293.07,384.59 293.60,384.71 294.13,384.83 294.66,384.96 295.19,385.08 295.72,385.21 296.25,385.33 296.78,385.46 297.31,385.59 297.84,385.72 298.36,385.85 298.89,385.98 299.42,386.11 299.95,386.25 300.48,386.38 301.01,386.52 301.54,386.65 302.07,386.79 302.60,386.93 303.13,387.06 303.66,387.20 304.19,387.34 304.72,387.48 305.25,387.62 305.78,387.76 306.31,387.91 306.84,388.05 307.37,388.19 307.90,388.33 308.42,388.48 308.95,388.62 309.48,388.77 310.01,388.91 310.54,389.05 311.07,389.20 311.60,389.34 312.13,389.49 312.66,389.63 313.19,389.78 313.72,389.92 314.25,390.06 314.78,390.21 315.31,390.35 315.84,390.49 316.37,390.64 316.90,390.78 317.43,390.92 317.96,391.06 318.48,391.20 319.01,391.34 319.54,391.48 320.07,391.62 320.60,391.76 321.13,391.90 321.66,392.03 322.19,392.17 322.72,392.31 323.25,392.44 323.78,392.57 324.31,392.71 324.84,392.84 325.37,392.97 325.90,393.10 326.43,393.23 326.96,393.35 327.49,393.48 328.02,393.61 328.54,393.73 329.07,393.85 329.60,393.97 330.13,394.09 330.66,394.21 331.19,394.33 331.72,394.45 332.25,394.57 332.78,394.68 333.31,394.79 333.84,394.91 334.37,395.02 334.90,395.13 335.43,395.23 335.96,395.34 336.49,395.45 337.02,395.55 337.55,395.65 338.08,395.75 338.61,395.86 339.13,395.95 339.66,396.05 340.19,396.15 340.72,396.24 341.25,396.34 341.78,396.43 342.31,396.52 342.84,396.61 343.37,396.70 343.90,396.79 344.43,396.88 344.96,396.96 345.49,397.04 346.02,397.13 346.55,397.21 347.08,397.29 347.61,397.37 348.14,397.45 348.67,397.52 349.19,397.60 349.72,397.67 350.25,397.75 350.78,397.82 351.31,397.89 351.84,397.96 352.37,398.03 352.90,398.10 353.43,398.16 353.96,398.23 354.49,398.29 355.02,398.36 355.55,398.42 356.08,398.48 356.61,398.54 357.14,398.60 357.67,398.66 358.20,398.72 358.73,398.77 359.25,398.83 359.78,398.89 360.31,398.94 360.84,398.99 361.37,399.04 361.90,399.10 362.43,399.15 362.96,399.20 363.49,399.25 364.02,399.29 364.55,399.34 365.08,399.39 365.61,399.43 366.14,399.48 366.67,399.52 367.20,399.56 367.73,399.61 368.26,399.65 368.79,399.69 369.31,399.73 369.84,399.77 370.37,399.81 370.90,399.85 371.43,399.89 371.96,399.92 372.49,399.96 373.02,400.00 373.55,400.03 374.08,400.07 374.61,400.10 375.14,400.13 375.67,400.17 376.20,400.20 376.73,400.23 377.26,400.26 377.79,400.29 378.32,400.32 378.85,400.35 379.37,400.38 379.90,400.41 380.43,400.44 380.96,400.47 381.49,400.49 382.02,400.52 382.55,400.55 383.08,400.57 383.61,400.60 384.14,400.62 384.67,400.65 385.20,400.67 385.73,400.69 386.26,400.72 386.79,400.74 387.32,400.76 387.85,400.78 388.38,400.80 388.91,400.83 389.43,400.85 389.96,400.87 390.49,400.89 391.02,400.91 391.55,400.93 392.08,400.94 392.61,400.96 393.14,400.98 393.67,401.00 394.20,401.02 394.73,401.04 395.26,401.05 395.79,401.07 396.32,401.09 396.85,401.10 397.38,401.12 397.91,401.13 398.44,401.15 398.97,401.16 399.49,401.18 400.02,401.19 400.55,401.21 401.08,401.22 401.61,401.24 402.14,401.25 402.67,401.26 403.20,401.28 403.73,401.29 404.26,401.30 404.79,401.31 405.32,401.33 405.85,401.34 406.38,401.35 406.91,401.36 407.44,401.37 407.97,401.38 408.50,401.39 409.03,401.41 409.55,401.42 410.08,401.43 410.61,401.44 411.14,401.45 411.67,401.46 412.20,401.47 412.73,401.48 413.26,401.48 413.79,401.49 414.32,401.50 414.85,401.51 415.38,401.52 415.91,401.53 416.44,401.54 416.97,401.55 417.50,401.55 418.03,401.56 418.56,401.57 419.09,401.58 419.62,401.58 420.14,401.59 420.67,401.60 421.20,401.61 421.73,401.61 422.26,401.62 422.79,401.63 423.32,401.63 423.85,401.64 424.38,401.65 424.91,401.65 425.44,401.66 425.97,401.66 426.50,401.67 427.03,401.68 427.56,401.68 428.09,401.69 428.62,401.69 429.15,401.70 429.68,401.70 430.20,401.71 430.73,401.71 431.26,401.72 431.79,401.72 432.32,401.73 432.85,401.73 433.38,401.74 433.91,401.74 434.44,401.75 434.97,401.75 435.50,401.76 436.03,401.76 436.56,401.77 437.09,401.77 437.62,401.77 438.15,401.78 438.68,401.78 439.21,401.79 439.74,401.79 440.26,401.79 440.79,401.80 441.32,401.80 441.85,401.80 442.38,401.81 442.91,401.81 443.44,401.81 443.97,401.82 444.50,401.82 445.03,401.82 445.56,401.83 446.09,401.83 446.62,401.83 447.15,401.84 447.68,401.84 448.21,401.84 448.74,401.84 449.27,401.85 449.80,401.85 450.32,401.85 450.85,401.86 451.38,401.86 451.91,401.86 452.44,401.86 452.97,401.87 453.50,401.87 454.03,401.87 454.56,401.87 455.09,401.87 455.62,401.88 456.15,401.88 456.68,401.88 457.21,401.88 457.74,401.89 458.27,401.89 458.80,401.89 459.33,401.89 459.86,401.89 460.38,401.90 460.91,401.90 461.44,401.90 461.97,401.90 462.50,401.90 463.03,401.90 463.56,401.91 464.09,401.91 464.62,401.91 465.15,401.91 465.68,401.91 466.21,401.91 466.74,401.92 467.27,401.92 467.80,401.92 468.33,401.92 468.86,401.92 469.39,401.92 469.92,401.92 470.44,401.93 470.97,401.93 471.50,401.93 472.03,401.93 472.56,401.93 473.09,401.93 473.62,401.93 474.15,401.93 474.68,401.94 475.21,401.94 475.74,401.94 476.27,401.94 476.80,401.94 477.33,401.94 477.86,401.94 478.39,401.94 478.92,401.94 479.45,401.95 479.98,401.95 480.50,401.95 481.03,401.95 481.56,401.95 482.09,401.95 482.62,401.95 483.15,401.95 483.68,401.95 484.21,401.95 484.74,401.95 485.27,401.95 485.80,401.96 486.33,401.96 486.86,401.96 487.39,401.96 487.92,401.96 488.45,401.96 488.98,401.96 489.51,401.96 490.04,401.96 490.56,401.96 491.09,401.96 491.62,401.96 492.15,401.96 492.68,401.96 493.21,401.97 493.74,401.97 494.27,401.97 494.80,401.97 495.33,401.97 495.86,401.97 496.39,401.97 496.92,401.97 497.45,401.97 497.98,401.97 498.51,401.97 499.04,401.97 499.57,401.97 500.10,401.97 500.63,401.97 501.15,401.97 501.68,401.97 502.21,401.97 502.74,401.98 503.27,401.98 503.80,401.98 504.33,401.98 504.86,401.98 505.39,401.98 505.92,401.98 506.45,401.98 506.98,401.98 507.51,401.98 508.04,401.98 508.57,401.98 509.10,401.98 509.63,401.98 510.16,401.98 510.69,401.98 511.21,401.98 511.74,401.98 512.27,401.98 512.80,401.98 513.33,401.98 513.86,401.98 514.39,401.98 514.92,401.98 515.45,401.98 515.98,401.98 516.51,401.98 517.04,401.98 517.57,401.98 518.10,401.99 518.63,401.99 519.16,401.99 519.69,401.99 520.22,401.99 520.75,401.99 521.27,401.99 521.80,401.99 522.33,401.99 522.86,401.99 523.39,401.99 523.92,401.99 524.45,401.99 524.98,401.99 525.51,401.99 526.04,401.99 526.57,401.99 527.10,401.99 527.63,401.99 528.16,401.99 528.69,401.99 529.22,401.99 529.75,401.99 530.28,401.99 530.81,401.99 531.33,401.99 531.86,401.99 532.39,401.99 532.92,401.99 533.45,401.99 533.98,401.99 534.51,401.99 535.04,401.99 535.57,401.99 536.10,401.99" fill="none" stroke="#ff0000" stroke-width="2.5" stroke-linejoin="round" />
<polyline points="60.10,376.70 60.63,376.70 61.16,376.70 61.69,376.70 62.22,376.70 62.75,376.70 63.28,376.71 63.81,376.71 64.34,376.71 64.87,376.71 65.39,376.71 65.92,376.71 66.45,376.71 66.98,376.71 67.51,376.71 68.04,376.71 68.57,376.71 69.10,376.71 69.63,376.71 70.16,376.71 70.69,376.71 71.22,376.71 71.75,376.71 72.28,376.71 72.81,376.71 73.34,376.71 73.87,376.71 74.40,376.71 74.93,376.71 75.45,376.71 75.98,376.71 76.51,376.71 77.04,376.71 77.57,376.71 78.10,376.71 78.63,376.71 79.16,376.71 79.69,376.71 80.22,376.71 80.75,376.71 81.28,376.71 81.81,376.71 82.34,376.71 82.87,376.71 83.40,376.71 83.93,376.71 84.46,376.71 84.99,376.71 85.51,376.71 86.04,376.71 86.57,376.71 87.10,376.71 87.63,376.71 88.16,376.71 88.69,376.71 89.22,376.71 89.75,376.71 90.28,376.71 90.81,376.71 91.34,376.71 91.87,376.71 92.40,376.71 92.93,376.71 93.46,376.71 93.99,376.71 94.52,376.71 95.05,376.71 95.57,376.72 96.10,376.72 96.63,376.72 97.16,376.72 97.69,376.72 98.22,376.72 98.75,376.72 99.28,376.72 99.81,376.72 100.34,376.72 100.87,376.72 101.40,376.72 101.93,376.72 102.46,376.72 102.99,376.72 103.52,376.72 104.05,376.72 104.58,376.72 105.11,376.72 105.64,376.72 106.16,376.72 106.69,376.72 107.22,376.72 107.75,376.72 108.28,376.72 108.81,376.72 109.34,376.72 109.87,376.72 110.40,376.73 110.93,376.73 111.46,376.73 111.99,376.73 112.52,376.73 113.05,376.73 113.58,376.73 114.11,376.73 114.64,376.73 115.17,376.73 115.70,376.73 116.22,376.73 116.75,376.73 117.28,376.73 117.81,376.73 118.34,376.73 118.87,376.73 119.40,376.73 119.93,376.73 120.46,376.74 120.99,376.74 121.52,376.74 122.05,376.74 122.58,376.74 123.11,376.74 123.64,376.74 124.17,376.74 124.70,376.74 125.23,376.74 125.76,376.74 126.28,376.74 126.81,376.74 127.34,376.74 127.87,376.75 128.40,376.75 128.93,376.75 129.46,376.75 129.99,376.75 130.52,376.75 131.05,376.75 131.58,376.75 132.11,376.75 132.64,376.75 133.17,376.75 133.70,376.76 134.23,376.76 134.76,376.76 135.29,376.76 135.82,376.76 136.34,376.76 136.87,376.76 137.40,376.76 137.93,376.76 138.46,376.76 138.99,376.77 139.52,376.77 140.05,376.77 140.58,376.77 141.11,376.77 141.64,376.77 142.17,376.77 142.70,376.77 143.23,376.78 143.76,376.78 144.29,376.78 144.82,376.78 145.35,376.78 145.88,376.78 146.40,376.78 146.93,376.79 147.46,376.79 147.99,376.79 148.52,376.79 149.05,376.79 149.58,376.79 150.11,376.80 150.64,376.80 151.17,376.80 151.70,376.80 152.23,376.80 152.76,376.80 153.29,376.81 153.82,376.81 154.35,376.81 154.88,376.81 155.41,376.81 155.94,376.82 156.46,376.82 156.99,376.82 157.52,376.82 158.05,376.83 158.58,376.83 159.11,376.83 159.64,376.83 160.17,376.83 160.70,376.84 161.23,376.84 161.76,376.84 162.29,376.84 162.82,376.85 163.35,376.85 163.88,376.85 164.41,376.86 164.94,376.86 165.47,376.86 166.00,376.86 166.52,376.87 167.05,376.87 167.58,376.87 168.11,376.88 168.64,376.88 169.17,376.88 169.70,376.89 170.23,376.89 170.76,376.89 171.29,376.90 171.82,376.90 172.35,376.90 172.88,376.91 173.41,376.91 173.94,376.92 174.47,376.92 175.00,376.92 175.53,376.93 176.06,376.93 176.58,376.94 177.11,376.94 177.64,376.94 178.17,376.95 178.70,376.95 179.23,376.96 179.76,376.96 180.29,376.97 180.82,376.97 181.35,376.98 181.88,376.98 182.41,376.99 182.94,376.99 183.47,377.00 184.00,377.00 184.53,377.01 185.06,377.01 185.59,377.02 186.12,377.02 186.65,377.03 187.17,377.04 187.70,377.04 188.23,377.05 188.76,377.06 189.29,377.06 189.82,377.07 190.35,377.08 190.88,377.08 191.41,377.09 191.94,377.10 192.47,377.10 193.00,377.11 193.53,377.12 194.06,377.13 194.59,377.13 195.12,377.14 195.65,377.15 196.18,377.16 196.71,377.17 197.23,377.17 197.76,377.18 198.29,377.19 198.82,377.20 199.35,377.21 199.88,377.22 200.41,377.23 200.94,377.24 201.47,377.25 202.00,377.26 202.53,377.27 203.06,377.28 203.59,377.29 204.12,377.30 204.65,377.31 205.18,377.32 205.71,377.33 206.24,377.34 206.77,377.35 207.29,377.37 207.82,377.38 208.35,377.39 208.88,377.40 209.41,377.42 209.94,377.43 210.47,377.44 211.00,377.45 211.53,377.47 212.06,377.48 212.59,377.50 213.12,377.51 213.65,377.53 214.18,377.54 214.71,377.56 215.24,377.57 215.77,377.59 216.30,377.60 216.83,377.62 217.35,377.64 217.88,377.65 218.41,377.67 218.94,377.69 219.47,377.71 220.00,377.72 220.53,377.74 221.06,377.76 221.59,377.78 222.12,377.80 222.65,377.82 223.18,377.84 223.71,377.86 224.24,377.88 224.77,377.90 225.30,377.93 225.83,377.95 226.36,377.97 226.89,377.99 227.41,378.02 227.94,378.04 228.47,378.07 229.00,378.09 229.53,378.12 230.06,378.14 230.59,378.17 231.12,378.19 231.65,378.22 232.18,378.25 232.71,378.28 233.24,378.30 233.77,378.33 234.30,378.36 234.83,378.39 235.36,378.42 235.89,378.46 236.42,378.49 236.95,378.52 237.47,378.55 238.00,378.59 238.53,378.62 239.06,378.66 239.59,378.69 240.12,378.73 240.65,378.76 241.18,378.80 241.71,378.84 242.24,378.88 242.77,378.92 243.30,378.96 243.83,379.00 244.36,379.04 244.89,379.09 245.42,379.13 245.95,379.17 246.48,379.22 247.01,379.26 247.53,379.31 248.06,379.36 248.59,379.41 249.12,379.46 249.65,379.51 250.18,379.56 250.71,379.61 251.24,379.66 251.77,379.72 252.30,379.77 252.83,379.83 253.36,379.89 253.89,379.95 254.42,380.00 254.95,380.07 255.48,380.13 256.01,380.19 256.54,380.25 257.07,380.32 257.59,380.39 258.12,380.45 258.65,380.52 259.18,380.59 259.71,380.66 260.24,380.74 260.77,380.81 261.30,380.89 261.83,380.97 262.36,381.04 262.89,381.13 263.42,381.21 263.95,381.29 264.48,381.38 265.01,381.46 265.54,381.55 266.07,381.64 266.60,381.73 267.13,381.83 267.66,381.92 268.18,382.02 268.71,382.12 269.24,382.22 269.77,382.32 270.30,382.43 270.83,382.54 271.36,382.65 271.89,382.76 272.42,382.87 272.95,382.99 273.48,383.11 274.01,383.23 274.54,383.35 275.07,383.48 275.60,383.61 276.13,383.74 276.66,383.87 277.19,384.01 277.72,384.15 278.24,384.29 278.77,384.44 279.30,384.59 279.83,384.74 280.36,384.89 280.89,385.05 281.42,385.21 281.95,385.38 282.48,385.55 283.01,385.72 283.54,385.89 284.07,386.07 284.60,386.26 285.13,386.44 285.66,386.63 286.19,386.83 286.72,387.03 287.25,387.23 287.78,387.44 288.30,387.65 288.83,387.87 289.36,388.09 289.89,388.32 290.42,388.55 290.95,388.78 291.48,389.02 292.01,389.27 292.54,389.52 293.07,389.78 293.60,390.04 294.13,390.30 294.66,390.58 295.19,390.85 295.72,391.14 296.25,391.43 296.78,391.72 297.31,392.02 297.84,392.33 298.36,392.64 298.89,392.96 299.42,393.28 299.95,393.61 300.48,393.94 301.01,394.28 301.54,394.63 302.07,394.98 302.60,395.34 303.13,395.70 303.66,396.06 304.19,396.43 304.72,396.81 305.25,397.19 305.78,397.57 306.31,397.96 306.84,398.35 307.37,398.74 307.90,399.14 308.42,399.54 308.95,399.94 309.48,400.35 310.01,400.75 310.54,401.16 311.07,401.57 311.60,401.98 312.13,402.39 312.66,402.79 313.19,403.20 313.72,403.61 314.25,404.01 314.78,404.41 315.31,404.82 315.84,405.21 316.37,405.61 316.90,406.00 317.43,406.39 317.96,406.77 318.48,407.15 319.01,407.53 319.54,407.90 320.07,408.27 320.60,408.63 321.13,408.98 321.66,409.33 322.19,409.68 322.72,410.02 323.25,410.36 323.78,410.68 324.31,411.01 324.84,411.33 325.37,411.64 325.90,411.95 326.43,412.25 326.96,412.54 327.49,412.83 328.02,413.12 328.54,413.39 329.07,413.67 329.60,413.93 330.13,414.20 330.66,414.45 331.19,414.70 331.72,414.95 332.25,415.19 332.78,415.43 333.31,415.66 333.84,415.89 334.37,416.11 334.90,416.33 335.43,416.54 335.96,416.75 336.49,416.95 337.02,417.15 337.55,417.35 338.08,417.54 338.61,417.72 339.13,417.91 339.66,418.09 340.19,418.26 340.72,418.44 341.25,418.60 341.78,418.77 342.31,418.93 342.84,419.09 343.37,419.24 343.90,419.40 344.43,419.55 344.96,419.69 345.49,419.83 346.02,419.97 346.55,420.11 347.08,420.25 347.61,420.38 348.14,420.51 348.67,420.63 349.19,420.76 349.72,420.88 350.25,421.00 350.78,421.11 351.31,421.23 351.84,421.34 352.37,421.45 352.90,421.56 353.43,421.66 353.96,421.77 354.49,421.87 355.02,421.97 355.55,422.07 356.08,422.16 356.61,422.26 357.14,422.35 357.67,422.44 358.20,422.53 358.73,422.61 359.25,422.70 359.78,422.78 360.31,422.87 360.84,422.95 361.37,423.03 361.90,423.10 362.43,423.18 362.96,423.25 363.49,423.33 364.02,423.40 364.55,423.47 365.08,423.54 365.61,423.61 366.14,423.67 366.67,423.74 367.20,423.80 367.73,423.87 368.26,423.93 368.79,423.99 369.31,424.05 369.84,424.11 370.37,424.16 370.90,424.22 371.43,424.28 371.96,424.33 372.49,424.38 373.02,424.44 373.55,424.49 374.08,424.54 374.61,424.59 375.14,424.64 375.67,424.68 376.20,424.73 376.73,424.78 377.26,424.82 377.79,424.87 378.32,424.91 378.85,424.95 379.37,424.99 379.90,425.04 380.43,425.08 380.96,425.12 381.49,425.16 382.02,425.19 382.55,425.23 383.08,425.27 383.61,425.30 384.14,425.34 384.67,425.38 385.20,425.41 385.73,425.44 386.26,425.48 386.79,425.51 387.32,425.54 387.85,425.57 388.38,425.60 388.91,425.63 389.43,425.66 389.96,425.69 390.49,425.72 391.02,425.75 391.55,425.78 392.08,425.80 392.61,425.83 393.14,425.86 393.67,425.88 394.20,425.91 394.73,425.93 395.26,425.96 395.79,425.98 396.32,426.00 396.85,426.03 397.38,426.05 397.91,426.07 398.44,426.09 398.97,426.12 399.49,426.14 400.02,426.16 400.55,426.18 401.08,426.20 401.61,426.22 402.14,426.24 402.67,426.26 403.20,426.27 403.73,426.29 404.26,426.31 404.79,426.33 405.32,426.35 405.85,426.36 406.38,426.38 406.91,426.40 407.44,426.41 407.97,426.43 408.50,426.44 409.03,426.46 409.55,426.47 410.08,426.49 410.61,426.50 411.14,426.52 411.67,426.53 412.20,426.54 412.73,426.56 413.26,426.57 413.79,426.58 414.32,426.60 414.85,426.61 415.38,426.62 415.91,426.63 416.44,426.64 416.97,426.66 417.50,426.67 418.03,426.68 418.56,426.69 419.09,426.70 419.62,426.71 420.14,426.72 420.67,426.73 421.20,426.74 421.73,426.75 422.26,426.76 422.79,426.77 423.32,426.78 423.85,426.79 424.38,426.80 424.91,426.81 425.44,426.82 425.97,426.83 426.50,426.83 427.03,426.84 427.56,426.85 428.09,426.86 428.62,426.87 429.15,426.87 429.68,426.88 430.20,426.89 430.73,426.90 431.26,426.90 431.79,426.91 432.32,426.92 432.85,426.92 433.38,426.93 433.91,426.94 434.44,426.94 434.97,426.95 435.50,426.96 436.03,426.96 436.56,426.97 437.09,426.97 437.62,426.98 438.15,426.99 438.68,426.99 439.21,427.00 439.74,427.00 440.26,427.01 440.79,427.01 441.32,427.02 441.85,427.02 442.38,427.03 442.91,427.03 443.44,427.04 443.97,427.04 444.50,427.05 445.03,427.05 445.56,427.06 446.09,427.06 446.62,427.06 447.15,427.07 447.68,427.07 448.21,427.08 448.74,427.08 449.27,427.08 449.80,427.09 450.32,427.09 450.85,427.10 451.38,427.10 451.91,427.10 452.44,427.11 452.97,427.11 453.50,427.11 454.03,427.12 454.56,427.12 455.09,427.12 455.62,427.13 456.15,427.13 456.68,427.13 457.21,427.14 457.74,427.14 458.27,427.14 458.80,427.14 459.33,427.15 459.86,427.15 460.38,427.15 460.91,427.15 461.44,427.16 461.97,427.16 462.50,427.16 463.03,427.16 463.56,427.17 464.09,427.17 464.62,427.17 465.15,427.17 465.68,427.18 466.21,427.18 466.74,427.18 467.27,427.18 467.80,427.18 468.33,427.19 468.86,427.19 469.39,427.19 469.92,427.19 470.44,427.19 470.97,427.20 471.50,427.20 472.03,427.20 472.56,427.20 473.09,427.20 473.62,427.21 474.15,427.21 474.68,427.21 475.21,427.21 475.74,427.21 476.27,427.21 476.80,427.22 477.33,427.22 477.86,427.22 478.39,427.22 478.92,427.22 479.45,427.22 479.98,427.22 480.50,427.23 481.03,427.23 481.56,427.23 482.09,427.23 482.62,427.23 483.15,427.23 483.68,427.23 484.21,427.23 484.74,427.24 485.27,427.24 485.80,427.24 486.33,427.24 486.86,427.24 487.39,427.24 487.92,427.24 488.45,427.24 488.98,427.24 489.51,427.24 490.04,427.25 490.56,427.25 491.09,427.25 491.62,427.25 492.15,427.25 492.68,427.25 493.21,427.25 493.74,427.25 494.27,427.25 494.80,427.25 495.33,427.25 495.86,427.26 496.39,427.26 496.92,427.26 497.45,427.26 497.98,427.26 498.51,427.26 499.04,427.26 499.57,427.26 500.10,427.26 500.63,427.26 501.15,427.26 501.68,427.26 502.21,427.26 502.74,427.26 503.27,427.27 503.80,427.27 504.33,427.27 504.86,427.27 505.39,427.27 505.92,427.27 506.45,427.27 506.98,427.27 507.51,427.27 508.04,427.27 508.57,427.27 509.10,427.27 509.63,427.27 510.16,427.27 510.69,427.27 511.21,427.27 511.74,427.27 512.27,427.27 512.80,427.27 513.33,427.28 513.86,427.28 514.39,427.28 514.92,427.28 515.45,427.28 515.98,427.28 516.51,427.28 517.04,427.28 517.57,427.28 518.10,427.28 518.63,427.28 519.16,427.28 519.69,427.28 520.22,427.28 520.75,427.28 521.27,427.28 521.80,427.28 522.33,427.28 522.86,427.28 523.39,427.28 523.92,427.28 524.45,427.28 524.98,427.28 525.51,427.28 526.04,427.28 526.57,427.28 527.10,427.28 527.63,427.28 528.16,427.29 528.69,427.29 529.22,427.29 529.75,427.29 530.28,427.29 530.81,427.29 531.33,427.29 531.86,427.29 532.39,427.29 532.92,427.29 533.45,427.29 533.98,427.29 534.51,427.29 535.04,427.29 535.57,427.29 536.10,427.29" fill="none" stroke="#000000" stroke-width="2.5" stroke-linejoin="round" />
<polyline points="60.10,251.81 60.63,251.84 61.16,251.87 61.69,251.90 62.22,251.93 62.75,251.96 63.28,251.99 63.81,252.02 64.34,252.06 64.87,252.09 65.39,252.12 65.92,252.16 66.45,252.19 66.98,252.23 67.51,252.26 68.04,252.30 68.57,252.34 69.10,252.38 69.63,252.42 70.16,252.46 70.69,252.50 71.22,252.54 71.75,252.58 72.28,252.62 72.81,252.66 73.34,252.71 73.87,252.75 74.40,252.80 74.93,252.84 75.45,252.89 75.98,252.94 76.51,252.99 77.04,253.04 77.57,253.09 78.10,253.14 78.63,253.19 79.16,253.24 79.69,253.30 80.22,253.35 80.75,253.41 81.28,253.46 81.81,253.52 82.34,253.58 82.87,253.64 83.40,253.70 83.93,253.76 84.46,253.82 84.99,253.89 85.51,253.95 86.04,254.02 86.57,254.08 87.10,254.15 87.63,254.22 88.16,254.29 88.69,254.36 89.22,254.43 89.75,254.50 90.28,254.58 90.81,254.65 91.34,254.73 91.87,254.81 92.40,254.89 92.93,254.97 93.46,255.05 93.99,255.13 94.52,255.21 95.05,255.30 95.57,255.38 96.10,255.47 96.63,255.56 97.16,255.65 97.69,255.74 98.22,255.83 98.75,255.93 99.28,256.02 99.81,256.12 100.34,256.22 100.87,256.31 101.40,256.41 101.93,256.52 102.46,256.62 102.99,256.72 103.52,256.83 104.05,256.94 104.58,257.04 105.11,257.15 105.64,257.26 106.16,257.37 106.69,257.49 107.22,257.60 107.75,257.72 108.28,257.83 108.81,257.95 109.34,258.07 109.87,258.19 110.40,258.31 110.93,258.44 111.46,258.56 111.99,258.69 112.52,258.81 113.05,258.94 113.58,259.07 114.11,259.20 114.64,259.33 115.17,259.46 115.70,259.59 116.22,259.73 116.75,259.86 117.28,260.00 117.81,260.13 118.34,260.27 118.87,260.41 119.40,260.55 119.93,260.68 120.46,260.82 120.99,260.97 121.52,261.11 122.05,261.25 122.58,261.39 123.11,261.53 123.64,261.68 124.17,261.82 124.70,261.96 125.23,262.11 125.76,262.25 126.28,262.40 126.81,262.54 127.34,262.69 127.87,262.83 128.40,262.98 128.93,263.12 129.46,263.27 129.99,263.41 130.52,263.56 131.05,263.70 131.58,263.85 132.11,263.99 132.64,264.14 133.17,264.28 133.70,264.42 134.23,264.56 134.76,264.71 135.29,264.85 135.82,264.99 136.34,265.13 136.87,265.27 137.40,265.41 137.93,265.55 138.46,265.68 138.99,265.82 139.52,265.96 140.05,266.09 140.58,266.23 141.11,266.36 141.64,266.49 142.17,266.62 142.70,266.75 143.23,266.88 143.76,267.01 144.29,267.14 144.82,267.26 145.35,267.39 145.88,267.51 146.40,267.63 146.93,267.76 147.46,267.88 147.99,268.00 148.52,268.11 149.05,268.23 149.58,268.34 150.11,268.46 150.64,268.57 151.17,268.68 151.70,268.79 152.23,268.90 152.76,269.01 153.29,269.12 153.82,269.22 154.35,269.33 154.88,269.43 155.41,269.53 155.94,269.63 156.46,269.73 156.99,269.83 157.52,269.93 158.05,270.02 158.58,270.12 159.11,270.21 159.64,270.30 160.17,270.39 160.70,270.48 161.23,270.57 161.76,270.66 162.29,270.74 162.82,270.83 163.35,270.91 163.88,270.99 164.41,271.07 164.94,271.15 165.47,271.23 166.00,271.31 166.52,271.39 167.05,271.46 167.58,271.54 168.11,271.61 168.64,271.68 169.17,271.75 169.70,271.82 170.23,271.89 170.76,271.96 171.29,272.03 171.82,272.10 172.35,272.16 172.88,272.23 173.41,272.29 173.94,272.35 174.47,272.42 175.00,272.48 175.53,272.54 176.06,272.60 176.58,272.65 177.11,272.71 177.64,272.77 178.17,272.83 178.70,272.88 179.23,272.94 179.76,272.99 180.29,273.04 180.82,273.09 181.35,273.15 181.88,273.20 182.41,273.25 182.94,273.30 183.47,273.35 184.00,273.39 184.53,273.44 185.06,273.49 185.59,273.54 186.12,273.58 186.65,273.63 187.17,273.67 187.70,273.72 188.23,273.76 188.76,273.80 189.29,273.84 189.82,273.89 190.35,273.93 190.88,273.97 191.41,274.01 191.94,274.05 192.47,274.09 193.00,274.13 193.53,274.17 194.06,274.21 194.59,274.24 195.12,274.28 195.65,274.32 196.18,274.36 196.71,274.39 197.23,274.43 197.76,274.46 198.29,274.50 198.82,274.53 199.35,274.57 199.88,274.60 200.41,274.64 200.94,274.67 201.47,274.71 202.00,274.74 202.53,274.77 203.06,274.81 203.59,274.84 204.12,274.87 204.65,274.90 205.18,274.94 205.71,274.97 206.24,275.00 206.77,275.03 207.29,275.06 207.82,275.10 208.35,275.13 208.88,275.16 209.41,275.19 209.94,275.22 210.47,275.25 211.00,275.28 211.53,275.31 212.06,275.35 212.59,275.38 213.12,275.41 213.65,275.44 214.18,275.47 214.71,275.50 215.24,275.53 215.77,275.56 216.30,275.59 216.83,275.62 217.35,275.65 217.88,275.68 218.41,275.71 218.94,275.75 219.47,275.78 220.00,275.81 220.53,275.84 221.06,275.87 221.59,275.90 222.12,275.93 222.65,275.97 223.18,276.00 223.71,276.03 224.24,276.06 224.77,276.09 225.30,276.13 225.83,276.16 226.36,276.19 226.89,276.23 227.41,276.26 227.94,276.29 228.47,276.33 229.00,276.36 229.53,276.40 230.06,276.43 230.59,276.47 231.12,276.50 231.65,276.54 232.18,276.57 232.71,276.61 233.24,276.65 233.77,276.68 234.30,276.72 234.83,276.76 235.36,276.80 235.89,276.84 236.42,276.88 236.95,276.92 237.47,276.96 238.00,277.00 238.53,277.04 239.06,277.08 239.59,277.12 240.12,277.17 240.65,277.21 241.18,277.25 241.71,277.30 242.24,277.34 242.77,277.39 243.30,277.43 243.83,277.48 244.36,277.53 244.89,277.58 245.42,277.63 245.95,277.68 246.48,277.73 247.01,277.78 247.53,277.83 248.06,277.88 248.59,277.93 249.12,277.99 249.65,278.04 250.18,278.10 250.71,278.16 251.24,278.21 251.77,278.27 252.30,278.33 252.83,278.39 253.36,278.46 253.89,278.52 254.42,278.58 254.95,278.65 255.48,278.71 256.01,278.78 256.54,278.85 257.07,278.91 257.59,278.99 258.12,279.06 258.65,279.13 259.18,279.20 259.71,279.28 260.24,279.35 260.77,279.43 261.30,279.51 261.83,279.59 262.36,279.67 262.89,279.76 263.42,279.84 263.95,279.93 264.48,280.02 265.01,280.11 265.54,280.20 266.07,280.29 266.60,280.39 267.13,280.48 267.66,280.58 268.18,280.68 268.71,280.78 269.24,280.89 269.77,280.99 270.30,281.10 270.83,281.21 271.36,281.32 271.89,281.44 272.42,281.55 272.95,281.67 273.48,281.79 274.01,281.91 274.54,282.04 275.07,282.17 275.60,282.30 276.13,282.43 276.66,282.57 277.19,282.71 277.72,282.85 278.24,282.99 278.77,283.14 279.30,283.29 279.83,283.44 280.36,283.60 280.89,283.76 281.42,283.92 281.95,284.09 282.48,284.26 283.01,284.43 283.54,284.61 284.07,284.79 284.60,284.98 285.13,285.16 285.66,285.36 286.19,285.55 286.72,285.75 287.25,285.96 287.78,286.17 288.30,286.38 288.83,286.60 289.36,286.82 289.89,287.05 290.42,287.28 290.95,287.52 291.48,287.76 292.01,288.01 292.54,288.26 293.07,288.52 293.60,288.78 294.13,289.05 294.66,289.32 295.19,289.60 295.72,289.88 296.25,290.17 296.78,290.47 297.31,290.77 297.84,291.08 298.36,291.39 298.89,291.71 299.42,292.03 299.95,292.36 300.48,292.70 301.01,293.04 301.54,293.38 302.07,293.73 302.60,294.09 303.13,294.45 303.66,294.82 304.19,295.19 304.72,295.57 305.25,295.95 305.78,296.33 306.31,296.72 306.84,297.11 307.37,297.51 307.90,297.91 308.42,298.31 308.95,298.71 309.48,299.11 310.01,299.52 310.54,299.93 311.07,300.34 311.60,300.75 312.13,301.15 312.66,301.56 313.19,301.97 313.72,302.38 314.25,302.78 314.78,303.19 315.31,303.59 315.84,303.99 316.37,304.38 316.90,304.77 317.43,305.16 317.96,305.55 318.48,305.93 319.01,306.30 319.54,306.67 320.07,307.04 320.60,307.40 321.13,307.76 321.66,308.11 322.19,308.46 322.72,308.80 323.25,309.13 323.78,309.46 324.31,309.79 324.84,310.11 325.37,310.42 325.90,310.73 326.43,311.03 326.96,311.32 327.49,311.61 328.02,311.90 328.54,312.18 329.07,312.45 329.60,312.72 330.13,312.98 330.66,313.24 331.19,313.49 331.72,313.73 332.25,313.98 332.78,314.21 333.31,314.44 333.84,314.67 334.37,314.89 334.90,315.11 335.43,315.32 335.96,315.53 336.49,315.74 337.02,315.94 337.55,316.13 338.08,316.32 338.61,316.51 339.13,316.70 339.66,316.88 340.19,317.05 340.72,317.22 341.25,317.39 341.78,317.56 342.31,317.72 342.84,317.88 343.37,318.03 343.90,318.19 344.43,318.34 344.96,318.48 345.49,318.62 346.02,318.76 346.55,318.90 347.08,319.04 347.61,319.17 348.14,319.30 348.67,319.42 349.19,319.55 349.72,319.67 350.25,319.79 350.78,319.91 351.31,320.02 351.84,320.13 352.37,320.24 352.90,320.35 353.43,320.46 353.96,320.56 354.49,320.66 355.02,320.76 355.55,320.86 356.08,320.96 356.61,321.05 357.14,321.14 357.67,321.23 358.20,321.32 358.73,321.41 359.25,321.49 359.78,321.58 360.31,321.66 360.84,321.74 361.37,321.82 361.90,321.90 362.43,321.97 362.96,322.05 363.49,322.12 364.02,322.19 364.55,322.26 365.08,322.33 365.61,322.40 366.14,322.47 366.67,322.53 367.20,322.60 367.73,322.66 368.26,322.72 368.79,322.78 369.31,322.84 369.84,322.90 370.37,322.96 370.90,323.02 371.43,323.07 371.96,323.13 372.49,323.18 373.02,323.23 373.55,323.28 374.08,323.33 374.61,323.38 375.14,323.43 375.67,323.48 376.20,323.53 376.73,323.57 377.26,323.62 377.79,323.66 378.32,323.71 378.85,323.75 379.37,323.79 379.90,323.83 380.43,323.87 380.96,323.91 381.49,323.95 382.02,323.99 382.55,324.03 383.08,324.07 383.61,324.10 384.14,324.14 384.67,324.17 385.20,324.21 385.73,324.24 386.26,324.27 386.79,324.31 387.32,324.34 387.85,324.37 388.38,324.40 388.91,324.43 389.43,324.46 389.96,324.49 390.49,324.52 391.02,324.55 391.55,324.57 392.08,324.60 392.61,324.63 393.14,324.65 393.67,324.68 394.20,324.71 394.73,324.73 395.26,324.75 395.79,324.78 396.32,324.80 396.85,324.83 397.38,324.85 397.91,324.87 398.44,324.89 398.97,324.91 399.49,324.93 400.02,324.96 400.55,324.98 401.08,325.00 401.61,325.02 402.14,325.03 402.67,325.05 403.20,325.07 403.73,325.09 404.26,325.11 404.79,325.13 405.32,325.14 405.85,325.16 406.38,325.18 406.91,325.19 407.44,325.21 407.97,325.23 408.50,325.24 409.03,325.26 409.55,325.27 410.08,325.29 410.61,325.30 411.14,325.32 411.67,325.33 412.20,325.34 412.73,325.36 413.26,325.37 413.79,325.38 414.32,325.40 414.85,325.41 415.38,325.42 415.91,325.43 416.44,325.44 416.97,325.46 417.50,325.47 418.03,325.48 418.56,325.49 419.09,325.50 419.62,325.51 420.14,325.52 420.67,325.53 421.20,325.54 421.73,325.55 422.26,325.56 422.79,325.57 423.32,325.58 423.85,325.59 424.38,325.60 424.91,325.61 425.44,325.62 425.97,325.62 426.50,325.63 427.03,325.64 427.56,325.65 428.09,325.66 428.62,325.67 429.15,325.67 429.68,325.68 430.20,325.69 430.73,325.70 431.26,325.70 431.79,325.71 432.32,325.72 432.85,325.72 433.38,325.73 433.91,325.74 434.44,325.74 434.97,325.75 435.50,325.76 436.03,325.76 436.56,325.77 437.09,325.77 437.62,325.78 438.15,325.79 438.68,325.79 439.21,325.80 439.74,325.80 440.26,325.81 440.79,325.81 441.32,325.82 441.85,325.82 442.38,325.83 442.91,325.83 443.44,325.84 443.97,325.84 444.50,325.85 445.03,325.85 445.56,325.86 446.09,325.86 446.62,325.86 447.15,325.87 447.68,325.87 448.21,325.88 448.74,325.88 449.27,325.88 449.80,325.89 450.32,325.89 450.85,325.90 451.38,325.90 451.91,325.90 452.44,325.91 452.97,325.91 453.50,325.91 454.03,325.92 454.56,325.92 455.09,325.92 455.62,325.93 456.15,325.93 456.68,325.93 457.21,325.94 457.74,325.94 458.27,325.94 458.80,325.94 459.33,325.95 459.86,325.95 460.38,325.95 460.91,325.95 461.44,325.96 461.97,325.96 462.50,325.96 463.03,325.96 463.56,325.97 464.09,325.97 464.62,325.97 465.15,325.97 465.68,325.98 466.21,325.98 466.74,325.98 467.27,325.98 467.80,325.98 468.33,325.99 468.86,325.99 469.39,325.99 469.92,325.99 470.44,325.99 470.97,326.00 471.50,326.00 472.03,326.00 472.56,326.00 473.09,326.00 473.62,326.01 474.15,326.01 474.68,326.01 475.21,326.01 475.74,326.01 476.27,326.01 476.80,326.02 477.33,326.02 477.86,326.02 478.39,326.02 478.92,326.02 479.45,326.02 479.98,326.02 480.50,326.03 481.03,326.03 481.56,326.03 482.09,326.03 482.62,326.03 483.15,326.03 483.68,326.03 484.21,326.03 484.74,326.04 485.27,326.04 485.80,326.04 486.33,326.04 486.86,326.04 487.39,326.04 487.92,326.04 488.45,326.04 488.98,326.04 489.51,326.04 490.04,326.05 490.56,326.05 491.09,326.05 491.62,326.05 492.15,326.05 492.68,326.05 493.21,326.05 493.74,326.05 494.27,326.05 494.80,326.05 495.33,326.05 495.86,326.06 496.39,326.06 496.92,326.06 497.45,326.06 497.98,326.06 498.51,326.06 499.04,326.06 499.57,326.06 500.10,326.06 500.63,326.06 501.15,326.06 501.68,326.06 502.21,326.06 502.74,326.06 503.27,326.07 503.80,326.07 504.33,326.07 504.86,326.07 505.39,326.07 505.92,326.07 506.45,326.07 506.98,326.07 507.51,326.07 508.04,326.07 508.57,326.07 509.10,326.07 509.63,326.07 510.16,326.07 510.69,326.07 511.21,326.07 511.74,326.07 512.27,326.07 512.80,326.07 513.33,326.08 513.86,326.08 514.39,326.08 514.92,326.08 515.45,326.08 515.98,326.08 516.51,326.08 517.04,326.08 517.57,326.08 518.10,326.08 518.63,326.08 519.16,326.08 519.69,326.08 520.22,326.08 520.75,326.08 521.27,326.08 521.80,326.08 522.33,326.08 522.86,326.08 523.39,326.08 523.92,326.08 524.45,326.08 524.98,326.08 525.51,326.08 526.04,326.08 526.57,326.08 527.10,326.08 527.63,326.08 528.16,326.09 528.69,326.09 529.22,326.09 529.75,326.09 530.28,326.09 530.81,326.09 531.33,326.09 531.86,326.09 532.39,326.09 532.92,326.09 533.45,326.09 533.98,326.09 534.51,326.09 535.04,326.09 535.57,326.09 536.10,326.09" fill="none" stroke="#bf00bf" stroke-width="2.5" stroke-linejoin="round" />
</g>
<rect x="60.1" y="9.4" width="476.0" height="217.6" fill="none" stroke="#505050" stroke-width="1.25"/>
<path d="M80.57 9.4v2.6M80.57 227.0v-2.6" stroke="#383838" stroke-width="1"/>
<path d="M92.54 9.4v2.6M92.54 227.0v-2.6" stroke="#383838" stroke-width="1"/>
<path d="M101.04 9.4v2.6M101.04 227.0v-2.6" stroke="#383838" stroke-width="1"/>
<path d="M107.63 9.4v2.6M107.63 227.0v-2.6" stroke="#383838" stroke-width="1"/>
<path d="M113.01 9.4v2.6M113.01 227.0v-2.6" stroke="#383838" stroke-width="1"/>
<path d="M117.57 9.4v2.6M117.57 227.0v-2.6" stroke="#383838" stroke-width="1"/>
<path d="M121.51 9.4v2.6M121.51 227.0v-2.6" stroke="#383838" stroke-width="1"/>
<path d="M124.99 9.4v2.6M124.99 227.0v-2.6" stroke="#383838" stroke-width="1"/>
<path d="M128.10 9.4v4.8M128.10 227.0v-4.8" stroke="#383838" stroke-width="1"/>
<path d="M148.57 9.4v2.6M148.57 227.0v-2.6" stroke="#383838" stroke-width="1"/>
<path d="M160.54 9.4v2.6M160.54 227.0v-2.6" stroke="#383838" stroke-width="1"/>
<path d="M169.04 9.4v2.6M169.04 227.0v-2.6" stroke="#383838" stroke-width="1"/>
<path d="M175.63 9.4v2.6M175.63 227.0v-2.6" stroke="#383838" stroke-width="1"/>
<path d="M181.01 9.4v2.6M181.01 227.0v-2.6" stroke="#383838" stroke-width="1"/>
<path d="M185.57 9.4v2.6M185.57 227.0v-2.6" stroke="#383838" stroke-width="1"/>
<path d="M189.51 9.4v2.6M189.51 227.0v-2.6" stroke="#383838" stroke-width="1"/>
<path d="M192.99 9.4v2.6M192.99 227.0v-2.6" stroke="#383838" stroke-width="1"/>
<path d="M196.10 9.4v4.8M196.10 227.0v-4.8" stroke="#383838" stroke-width="1"/>
<path d="M216.57 9.4v2.6M216.57 227.0v-2.6" stroke="#383838" stroke-width="1"/>
<path d="M228.54 9.4v2.6M228.54 227.0v-2.6" stroke="#383838" stroke-width="1"/>
<path d="M237.04 9.4v2.6M237.04 227.0v-2.6" stroke="#383838" stroke-width="1"/>
<path d="M243.63 9.4v2.6M243.63 227.0v-2.6" stroke="#383838" stroke-width="1"/>
<path d="M249.01 9.4v2.6M249.01 227.0v-2.6" stroke="#383838" stroke-width="1"/>
<path d="M253.57 9.4v2.6M253.57 227.0v-2.6" stroke="#383838" stroke-width="1"/>
<path d="M257.51 9.4v2.6M257.51 227.0v-2.6" stroke="#383838" stroke-width="1"/>
<path d="M260.99 9.4v2.6M260.99 227.0v-2.6" stroke="#383838" stroke-width="1"/>
<path d="M264.10 9.4v4.8M264.10 227.0v-4.8" stroke="#383838" stroke-width="1"/>
<path d="M284.57 9.4v2.6M284.57 227.0v-2.6" stroke="#383838" stroke-width="1"/>
<path d="M296.54 9.4v2.6M296.54 227.0v-2.6" stroke="#383838" stroke-width="1"/>
<path d="M305.04 9.4v2.6M305.04 227.0v-2.6" stroke="#383838" stroke-width="1"/>
<path d="M311.63 9.4v2.6M311.63 227.0v-2.6" stroke="#383838" stroke-width="1"/>
<path d="M317.01 9.4v2.6M317.01 227.0v-2.6" stroke="#383838" stroke-width="1"/>
<path d="M321.57 9.4v2.6M321.57 227.0v-2.6" stroke="#383838" stroke-width="1"/>
<path d="M325.51 9.4v2.6M325.51 227.0v-2.6" stroke="#383838" stroke-width="1"/>
<path d="M328.99 9.4v2.6M328.99 227.0v-2.6" stroke="#383838" stroke-width="1"/>
<path d="M332.10 9.4v4.8M332.10 227.0v-4.8" stroke="#383838" stroke-width="1"/>
<path d="M352.57 9.4v2.6M352.57 227.0v-2.6" stroke="#383838" stroke-width="1"/>
<path d="M364.54 9.4v2.6M364.54 227.0v-2.6" stroke="#383838" stroke-width="1"/>
<path d="M373.04 9.4v2.6M373.04 227.0v-2.6" stroke="#383838" stroke-width="1"/>
<path d="M379.63 9.4v2.6M379.63 227.0v-2.6" stroke="#383838" stroke-width="1"/>
<path d="M385.01 9.4v2.6M385.01 227.0v-2.6" stroke="#383838" stroke-width="1"/>
<path d="M389.57 9.4v2.6M389.57 227.0v-2.6" stroke="#383838" stroke-width="1"/>
<path d="M393.51 9.4v2.6M393.51 227.0v-2.6" stroke="#383838" stroke-width="1"/>
<path d="M396.99 9.4v2.6M396.99 227.0v-2.6" stroke="#383838" stroke-width="1"/>
<path d="M400.10 9.4v4.8M400.10 227.0v-4.8" stroke="#383838" stroke-width="1"/>
<path d="M420.57 9.4v2.6M420.57 227.0v-2.6" stroke="#383838" stroke-width="1"/>
<path d="M432.54 9.4v2.6M432.54 227.0v-2.6" stroke="#383838" stroke-width="1"/>
<path d="M441.04 9.4v2.6M441.04 227.0v-2.6" stroke="#383838" stroke-width="1"/>
<path d="M447.63 9.4v2.6M447.63 227.0v-2.6" stroke="#383838" stroke-width="1"/>
<path d="M453.01 9.4v2.6M453.01 227.0v-2.6" stroke="#383838" stroke-width="1"/>
<path d="M457.57 9.4v2.6M457.57 227.0v-2.6" stroke="#383838" stroke-width="1"/>
<path d="M461.51 9.4v2.6M461.51 227.0v-2.6" stroke="#383838" stroke-width="1"/>
<path d="M464.99 9.4v2.6M464.99 227.0v-2.6" stroke="#383838" stroke-width="1"/>
<path d="M468.10 9.4v4.8M468.10 227.0v-4.8" stroke="#383838" stroke-width="1"/>
<path d="M488.57 9.4v2.6M488.57 227.0v-2.6" stroke="#383838" stroke-width="1"/>
<path d="M500.54 9.4v2.6M500.54 227.0v-2.6" stroke="#383838" stroke-width="1"/>
<path d="M509.04 9.4v2.6M509.04 227.0v-2.6" stroke="#383838" stroke-width="1"/>
<path d="M515.63 9.4v2.6M515.63 227.0v-2.6" stroke="#383838" stroke-width="1"/>
<path d="M521.01 9.4v2.6M521.01 227.0v-2.6" stroke="#383838" stroke-width="1"/>
<path d="M525.57 9.4v2.6M525.57 227.0v-2.6" stroke="#383838" stroke-width="1"/>
<path d="M529.51 9.4v2.6M529.51 227.0v-2.6" stroke="#383838" stroke-width="1"/>
<path d="M532.99 9.4v2.6M532.99 227.0v-2.6" stroke="#383838" stroke-width="1"/>
<path d="M60.1 9.57h4.8M536.1 9.57h-4.8" stroke="#383838" stroke-width="1"/>
<path d="M60.1 53.00h4.8M536.1 53.00h-4.8" stroke="#383838" stroke-width="1"/>
<path d="M60.1 96.43h4.8M536.1 96.43h-4.8" stroke="#383838" stroke-width="1"/>
<path d="M60.1 139.86h4.8M536.1 139.86h-4.8" stroke="#383838" stroke-width="1"/>
<path d="M60.1 183.29h4.8M536.1 183.29h-4.8" stroke="#383838" stroke-width="1"/>
<path d="M60.1 226.72h4.8M536.1 226.72h-4.8" stroke="#383838" stroke-width="1"/>
<rect x="60.1" y="236.4" width="476.0" height="192.4" fill="none" stroke="#505050" stroke-width="1.25"/>
<path d="M80.57 236.4v2.6M80.57 428.8v-2.6" stroke="#383838" stroke-width="1"/>
<path d="M92.54 236.4v2.6M92.54 428.8v-2.6" stroke="#383838" stroke-width="1"/>
<path d="M101.04 236.4v2.6M101.04 428.8v-2.6" stroke="#383838" stroke-width="1"/>
<path d="M107.63 236.4v2.6M107.63 428.8v-2.6" stroke="#383838" stroke-width="1"/>
<path d="M113.01 236.4v2.6M113.01 428.8v-2.6" stroke="#383838" stroke-width="1"/>
<path d="M117.57 236.4v2.6M117.57 428.8v-2.6" stroke="#383838" stroke-width="1"/>
<path d="M121.51 236.4v2.6M121.51 428.8v-2.6" stroke="#383838" stroke-width="1"/>
<path d="M124.99 236.4v2.6M124.99 428.8v-2.6" stroke="#383838" stroke-width="1"/>
<path d="M128.10 236.4v4.8M128.10 428.8v-4.8" stroke="#383838" stroke-width="1"/>
<path d="M148.57 236.4v2.6M148.57 428.8v-2.6" stroke="#383838" stroke-width="1"/>
<path d="M160.54 236.4v2.6M160.54 428.8v-2.6" stroke="#383838" stroke-width="1"/>
<path d="M169.04 236.4v2.6M169.04 428.8v-2.6" stroke="#383838" stroke-width="1"/>
<path d="M175.63 236.4v2.6M175.63 428.8v-2.6" stroke="#383838" stroke-width="1"/>
<path d="M181.01 236.4v2.6M181.01 428.8v-2.6" stroke="#383838" stroke-width="1"/>
<path d="M185.57 236.4v2.6M185.57 428.8v-2.6" stroke="#383838" stroke-width="1"/>
<path d="M189.51 236.4v2.6M189.51 428.8v-2.6" stroke="#383838" stroke-width="1"/>
<path d="M192.99 236.4v2.6M192.99 428.8v-2.6" stroke="#383838" stroke-width="1"/>
<path d="M196.10 236.4v4.8M196.10 428.8v-4.8" stroke="#383838" stroke-width="1"/>
<path d="M216.57 236.4v2.6M216.57 428.8v-2.6" stroke="#383838" stroke-width="1"/>
<path d="M228.54 236.4v2.6M228.54 428.8v-2.6" stroke="#383838" stroke-width="1"/>
<path d="M237.04 236.4v2.6M237.04 428.8v-2.6" stroke="#383838" stroke-width="1"/>
<path d="M243.63 236.4v2.6M243.63 428.8v-2.6" stroke="#383838" stroke-width="1"/>
<path d="M249.01 236.4v2.6M249.01 428.8v-2.6" stroke="#383838" stroke-width="1"/>
<path d="M253.57 236.4v2.6M253.57 428.8v-2.6" stroke="#383838" stroke-width="1"/>
<path d="M257.51 236.4v2.6M257.51 428.8v-2.6" stroke="#383838" stroke-width="1"/>
<path d="M260.99 236.4v2.6M260.99 428.8v-2.6" stroke="#383838" stroke-width="1"/>
<path d="M264.10 236.4v4.8M264.10 428.8v-4.8" stroke="#383838" stroke-width="1"/>
<path d="M284.57 236.4v2.6M284.57 428.8v-2.6" stroke="#383838" stroke-width="1"/>
<path d="M296.54 236.4v2.6M296.54 428.8v-2.6" stroke="#383838" stroke-width="1"/>
<path d="M305.04 236.4v2.6M305.04 428.8v-2.6" stroke="#383838" stroke-width="1"/>
<path d="M311.63 236.4v2.6M311.63 428.8v-2.6" stroke="#383838" stroke-width="1"/>
<path d="M317.01 236.4v2.6M317.01 428.8v-2.6" stroke="#383838" stroke-width="1"/>
<path d="M321.57 236.4v2.6M321.57 428.8v-2.6" stroke="#383838" stroke-width="1"/>
<path d="M325.51 236.4v2.6M325.51 428.8v-2.6" stroke="#383838" stroke-width="1"/>
<path d="M328.99 236.4v2.6M328.99 428.8v-2.6" stroke="#383838" stroke-width="1"/>
<path d="M332.10 236.4v4.8M332.10 428.8v-4.8" stroke="#383838" stroke-width="1"/>
<path d="M352.57 236.4v2.6M352.57 428.8v-2.6" stroke="#383838" stroke-width="1"/>
<path d="M364.54 236.4v2.6M364.54 428.8v-2.6" stroke="#383838" stroke-width="1"/>
<path d="M373.04 236.4v2.6M373.04 428.8v-2.6" stroke="#383838" stroke-width="1"/>
<path d="M379.63 236.4v2.6M379.63 428.8v-2.6" stroke="#383838" stroke-width="1"/>
<path d="M385.01 236.4v2.6M385.01 428.8v-2.6" stroke="#383838" stroke-width="1"/>
<path d="M389.57 236.4v2.6M389.57 428.8v-2.6" stroke="#383838" stroke-width="1"/>
<path d="M393.51 236.4v2.6M393.51 428.8v-2.6" stroke="#383838" stroke-width="1"/>
<path d="M396.99 236.4v2.6M396.99 428.8v-2.6" stroke="#383838" stroke-width="1"/>
<path d="M400.10 236.4v4.8M400.10 428.8v-4.8" stroke="#383838" stroke-width="1"/>
<path d="M420.57 236.4v2.6M420.57 428.8v-2.6" stroke="#383838" stroke-width="1"/>
<path d="M432.54 236.4v2.6M432.54 428.8v-2.6" stroke="#383838" stroke-width="1"/>
<path d="M441.04 236.4v2.6M441.04 428.8v-2.6" stroke="#383838" stroke-width="1"/>
<path d="M447.63 236.4v2.6M447.63 428.8v-2.6" stroke="#383838" stroke-width="1"/>
<path d="M453.01 236.4v2.6M453.01 428.8v-2.6" stroke="#383838" stroke-width="1"/>
<path d="M457.57 236.4v2.6M457.57 428.8v-2.6" stroke="#383838" stroke-width="1"/>
<path d="M461.51 236.4v2.6M461.51 428.8v-2.6" stroke="#383838" stroke-width="1"/>
<path d="M464.99 236.4v2.6M464.99 428.8v-2.6" stroke="#383838" stroke-width="1"/>
<path d="M468.10 236.4v4.8M468.10 428.8v-4.8" stroke="#383838" stroke-width="1"/>
<path d="M488.57 236.4v2.6M488.57 428.8v-2.6" stroke="#383838" stroke-width="1"/>
<path d="M500.54 236.4v2.6M500.54 428.8v-2.6" stroke="#383838" stroke-width="1"/>
<path d="M509.04 236.4v2.6M509.04 428.8v-2.6" stroke="#383838" stroke-width="1"/>
<path d="M515.63 236.4v2.6M515.63 428.8v-2.6" stroke="#383838" stroke-width="1"/>
<path d="M521.01 236.4v2.6M521.01 428.8v-2.6" stroke="#383838" stroke-width="1"/>
<path d="M525.57 236.4v2.6M525.57 428.8v-2.6" stroke="#383838" stroke-width="1"/>
<path d="M529.51 236.4v2.6M529.51 428.8v-2.6" stroke="#383838" stroke-width="1"/>
<path d="M532.99 236.4v2.6M532.99 428.8v-2.6" stroke="#383838" stroke-width="1"/>
<path d="M60.1 275.50h4.8M536.1 275.50h-4.8" stroke="#383838" stroke-width="1"/>
<path d="M60.1 326.10h4.8M536.1 326.10h-4.8" stroke="#383838" stroke-width="1"/>
<path d="M60.1 376.70h4.8M536.1 376.70h-4.8" stroke="#383838" stroke-width="1"/>
<path d="M60.1 427.30h4.8M536.1 427.30h-4.8" stroke="#383838" stroke-width="1"/>
<line x1="392" y1="428.8" x2="535.5" y2="428.8" stroke="#a0a0a0" stroke-width="0.9"/>
<path d="M393.51 429.3v-2.6" stroke="#222" stroke-width="1"/>
<path d="M396.99 429.3v-2.6" stroke="#222" stroke-width="1"/>
<path d="M400.10 429.3v-2.6" stroke="#222" stroke-width="1"/>
<path d="M420.57 429.3v-2.6" stroke="#222" stroke-width="1"/>
<path d="M432.54 429.3v-2.6" stroke="#222" stroke-width="1"/>
<path d="M441.04 429.3v-2.6" stroke="#222" stroke-width="1"/>
<path d="M447.63 429.3v-2.6" stroke="#222" stroke-width="1"/>
<path d="M453.01 429.3v-2.6" stroke="#222" stroke-width="1"/>
<path d="M457.57 429.3v-2.6" stroke="#222" stroke-width="1"/>
<path d="M461.51 429.3v-2.6" stroke="#222" stroke-width="1"/>
<path d="M464.99 429.3v-2.6" stroke="#222" stroke-width="1"/>
<path d="M468.10 429.3v-2.6" stroke="#222" stroke-width="1"/>
<path d="M488.57 429.3v-2.6" stroke="#222" stroke-width="1"/>
<path d="M500.54 429.3v-2.6" stroke="#222" stroke-width="1"/>
<path d="M509.04 429.3v-2.6" stroke="#222" stroke-width="1"/>
<path d="M515.63 429.3v-2.6" stroke="#222" stroke-width="1"/>
<path d="M521.01 429.3v-2.6" stroke="#222" stroke-width="1"/>
<path d="M525.57 429.3v-2.6" stroke="#222" stroke-width="1"/>
<path d="M529.51 429.3v-2.6" stroke="#222" stroke-width="1"/>
<path d="M532.99 429.3v-2.6" stroke="#222" stroke-width="1"/>
<line x1="153.40" y1="208.20" x2="118.31" y2="58.71" stroke="#0072bd" stroke-width="3.2"/><polygon points="115.80,48.00 124.63,58.25 112.46,61.11" fill="#0072bd"/>
<line x1="153.40" y1="225.50" x2="106.41" y2="390.82" stroke="#0072bd" stroke-width="3.2"/><polygon points="103.40,401.40 100.67,388.15 112.69,391.57" fill="#0072bd"/>
<line x1="244.30" y1="209.60" x2="293.94" y2="111.22" stroke="#ff0000" stroke-width="3.2"/><polygon points="298.90,101.40 299.07,114.93 287.91,109.30" fill="#ff0000"/>
<line x1="244.30" y1="226.00" x2="290.32" y2="373.10" stroke="#ff0000" stroke-width="3.2"/><polygon points="293.60,383.60 284.05,374.01 295.98,370.28" fill="#ff0000"/>
<line x1="357.30" y1="208.50" x2="390.44" y2="151.89" stroke="#000000" stroke-width="3.2"/><polygon points="396.00,142.40 395.33,155.91 384.54,149.60" fill="#000000"/>
<line x1="357.30" y1="226.00" x2="393.71" y2="414.50" stroke="#000000" stroke-width="3.2"/><polygon points="395.80,425.30 387.39,414.70 399.66,412.33" fill="#000000"/>
<line x1="434.70" y1="207.80" x2="447.33" y2="180.86" stroke="#bf00bf" stroke-width="3.2"/><polygon points="452.00,170.90 452.56,184.42 441.25,179.11" fill="#bf00bf"/>
<line x1="435.00" y1="226.00" x2="465.86" y2="314.02" stroke="#bf00bf" stroke-width="3.2"/><polygon points="469.50,324.40 459.63,315.14 471.43,311.01" fill="#bf00bf"/>
<text x="54.7" y="14.17" text-anchor="end" class="sa" font-size="13.6" fill="#000" stroke="#000" stroke-width="0.2">50</text>
<text x="54.7" y="57.60" text-anchor="end" class="sa" font-size="13.6" fill="#000" stroke="#000" stroke-width="0.2">0</text>
<text x="54.7" y="101.03" text-anchor="end" class="sa" font-size="13.6" fill="#000" stroke="#000" stroke-width="0.2">-50</text>
<text x="54.7" y="144.46" text-anchor="end" class="sa" font-size="13.6" fill="#000" stroke="#000" stroke-width="0.2">-100</text>
<text x="54.7" y="187.89" text-anchor="end" class="sa" font-size="13.6" fill="#000" stroke="#000" stroke-width="0.2">-150</text>
<text x="54.7" y="231.32" text-anchor="end" class="sa" font-size="13.6" fill="#000" stroke="#000" stroke-width="0.2">-200</text>
<text x="54.7" y="280.10" text-anchor="end" class="sa" font-size="13.6" fill="#000" stroke="#000" stroke-width="0.2">360</text>
<text x="54.7" y="330.70" text-anchor="end" class="sa" font-size="13.6" fill="#000" stroke="#000" stroke-width="0.2">180</text>
<text x="54.7" y="381.30" text-anchor="end" class="sa" font-size="13.6" fill="#000" stroke="#000" stroke-width="0.2">0</text>
<text x="54.7" y="431.90" text-anchor="end" class="sa" font-size="13.6" fill="#000" stroke="#000" stroke-width="0.2">-180</text>
<text x="117.20" y="451.9" class="sa" font-size="13.6" fill="#000" stroke="#000" stroke-width="0.2">10<tspan dy="-6.6" dx="0.2" font-size="10.8">0</tspan></text>
<text x="253.20" y="451.9" class="sa" font-size="13.6" fill="#000" stroke="#000" stroke-width="0.2">10<tspan dy="-6.6" dx="0.2" font-size="10.8">2</tspan></text>
<text x="389.20" y="451.9" class="sa" font-size="13.6" fill="#000" stroke="#000" stroke-width="0.2">10<tspan dy="-6.6" dx="0.2" font-size="10.8">4</tspan></text>
<text x="525.20" y="451.9" class="sa" font-size="13.6" fill="#000" stroke="#000" stroke-width="0.2">10<tspan dy="-6.6" dx="0.2" font-size="10.8">6</tspan></text>
<text transform="translate(20.2,113.3) rotate(-90)" text-anchor="middle" class="se" font-size="17.8" fill="#0a0a0a">Magnitude (dB)</text>
<text transform="translate(20.2,323.5) rotate(-90)" text-anchor="middle" class="se" font-size="17.6" fill="#0a0a0a">Phase(deg)</text>
<text x="251" y="470.5" class="sc" font-size="17.6" fill="#0a0a0a">Frequency <tspan x="325.9" dy="2.3">（</tspan><tspan x="343.6" dy="-2.3">rad/s</tspan><tspan x="379.0" dy="2.3">）</tspan></text>
<text x="118" y="223" class="se" font-weight="bold" font-size="13.65" fill="#000">Pure Integrator</text>
<text x="238.7" y="223" class="se" font-weight="bold" font-size="13.65" fill="#000">LPF</text>
<text x="334.5" y="223" class="se" font-weight="bold" font-size="13.65" fill="#000">SOGIFO</text>
<text x="409.2" y="223" class="se" font-weight="bold" font-size="13.65" fill="#000">SOGIFO-X</text>
<text x="354" y="56" text-anchor="middle" class="se" font-weight="bold" font-size="13.65" fill="#000">Center</text>
<text x="351.7" y="73" text-anchor="middle" class="se" font-weight="bold" font-size="13.65" fill="#000">Frequency</text>
</svg></body></html>
